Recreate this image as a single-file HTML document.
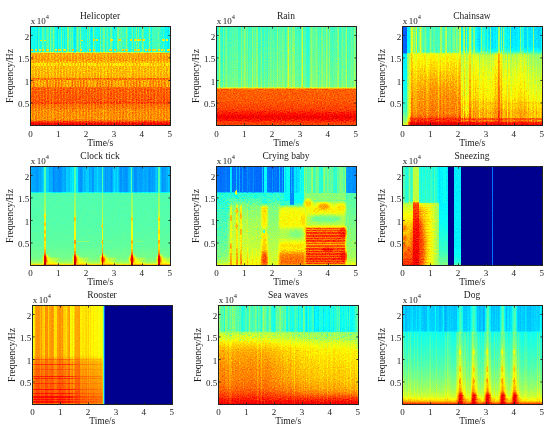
<!DOCTYPE html>
<html><head><meta charset="utf-8"><title>Spectrograms</title>
<style>html,body{margin:0;padding:0;background:#fff}svg{display:block}text{font-family:"Liberation Serif",serif;font-size:9.5px;fill:#1a1a1a}.t{font-size:9px}</style>
</head><body>
<svg width="550" height="431" viewBox="0 0 550 431">
<defs>
<filter id="j0" filterUnits="userSpaceOnUse" x="0" y="0" width="141" height="100" color-interpolation-filters="sRGB"><feTurbulence type="fractalNoise" baseFrequency=".75 .9" numOctaves="2" seed="2" result="n"/><feColorMatrix in="n" type="matrix" values="1 0 0 0 0 1 0 0 0 0 1 0 0 0 0 0 0 0 0 1" result="m"/><feComposite in="SourceGraphic" in2="m" operator="arithmetic" k1=".24" k2=".88" k3="0" k4="-0"/><feComponentTransfer><feFuncR type="table" tableValues="0 0 0 0 .5 1 1 1 .5"/><feFuncG type="table" tableValues="0 0 .5 1 1 1 .5 0 0"/><feFuncB type="table" tableValues=".56 1 1 1 .5 0 0 0 0"/></feComponentTransfer><feGaussianBlur stdDeviation=".4"/></filter>
<linearGradient id="g1" gradientUnits="userSpaceOnUse" x1="0" x2="0" y1="0" y2="100"><stop offset="0" stop-color="#6a6a6a"/><stop offset=".26" stop-color="#6b6b6b"/><stop offset=".27" stop-color="#b6b6b6"/><stop offset=".34" stop-color="#bbbbbb"/><stop offset=".36" stop-color="#b4b4b4"/><stop offset=".45" stop-color="#b2b2b2"/><stop offset=".52" stop-color="#b6b6b6"/><stop offset=".52" stop-color="#cccccc"/><stop offset=".53" stop-color="#c3c3c3"/><stop offset=".61" stop-color="#c4c4c4"/><stop offset=".62" stop-color="#c9c9c9"/><stop offset=".76" stop-color="#cccccc"/><stop offset=".77" stop-color="#d6d6d6"/><stop offset=".78" stop-color="#c7c7c7"/><stop offset=".82" stop-color="#c4c4c4"/><stop offset=".84" stop-color="#bfbfbf"/><stop offset=".94" stop-color="#bebebe"/><stop offset=".95" stop-color="#cccccc"/><stop offset=".97" stop-color="#dedede"/><stop offset="1" stop-color="#ededed"/></linearGradient>
<filter id="j1" filterUnits="userSpaceOnUse" x="0" y="0" width="141" height="100" color-interpolation-filters="sRGB"><feTurbulence type="fractalNoise" baseFrequency=".75 .9" numOctaves="2" seed="3" result="n"/><feColorMatrix in="n" type="matrix" values="1 0 0 0 0 1 0 0 0 0 1 0 0 0 0 0 0 0 0 1" result="m"/><feComposite in="SourceGraphic" in2="m" operator="arithmetic" k1=".2" k2=".9" k3="0" k4="0"/><feComponentTransfer><feFuncR type="table" tableValues="0 0 0 0 .5 1 1 1 .5"/><feFuncG type="table" tableValues="0 0 .5 1 1 1 .5 0 0"/><feFuncB type="table" tableValues=".56 1 1 1 .5 0 0 0 0"/></feComponentTransfer><feGaussianBlur stdDeviation=".4"/></filter>
<linearGradient id="g2" gradientUnits="userSpaceOnUse" x1="0" x2="0" y1="0" y2="100"><stop offset="0" stop-color="#707070"/><stop offset=".3" stop-color="#757575"/><stop offset=".55" stop-color="#7a7a7a"/><stop offset=".61" stop-color="#7e7e7e"/><stop offset=".63" stop-color="#c7c7c7"/><stop offset=".75" stop-color="#c9c9c9"/><stop offset=".84" stop-color="#d0d0d0"/><stop offset=".88" stop-color="#dbdbdb"/><stop offset=".91" stop-color="#e2e2e2"/><stop offset=".94" stop-color="#dbdbdb"/><stop offset=".96" stop-color="#d1d1d1"/><stop offset="1" stop-color="#cccccc"/></linearGradient>
<filter id="j2" filterUnits="userSpaceOnUse" x="0" y="0" width="141" height="100" color-interpolation-filters="sRGB"><feTurbulence type="fractalNoise" baseFrequency=".75 .9" numOctaves="2" seed="4" result="n"/><feColorMatrix in="n" type="matrix" values="1 0 0 0 0 1 0 0 0 0 1 0 0 0 0 0 0 0 0 1" result="m"/><feComposite in="SourceGraphic" in2="m" operator="arithmetic" k1=".22" k2=".89" k3="0" k4="0"/><feComponentTransfer><feFuncR type="table" tableValues="0 0 0 0 .5 1 1 1 .5"/><feFuncG type="table" tableValues="0 0 .5 1 1 1 .5 0 0"/><feFuncB type="table" tableValues=".56 1 1 1 .5 0 0 0 0"/></feComponentTransfer><feGaussianBlur stdDeviation=".4"/></filter>
<linearGradient id="g3" gradientUnits="userSpaceOnUse" x1="0" x2="0" y1="0" y2="100"><stop offset="0" stop-color="#757575"/><stop offset=".26" stop-color="#787878"/><stop offset=".28" stop-color="#9d9d9d"/><stop offset=".4" stop-color="#a6a6a6"/><stop offset=".5" stop-color="#adadad"/><stop offset=".7" stop-color="#b6b6b6"/><stop offset=".88" stop-color="#bdbdbd"/><stop offset=".94" stop-color="#d1d1d1"/><stop offset="1" stop-color="#ebebeb"/></linearGradient>
<linearGradient id="g4" gradientUnits="userSpaceOnUse" x1="0" x2="0" y1="0" y2="100"><stop offset="0" stop-color="#5b5b5b"/><stop offset=".21" stop-color="#5d5d5d"/><stop offset=".25" stop-color="#666666"/><stop offset=".27" stop-color="#7a7a7a"/><stop offset=".29" stop-color="#8f8f8f"/><stop offset=".4" stop-color="#959595"/><stop offset=".5" stop-color="#9c9c9c"/><stop offset=".6" stop-color="#a1a1a1"/><stop offset=".7" stop-color="#a4a4a4"/><stop offset=".8" stop-color="#acacac"/><stop offset=".87" stop-color="#b5b5b5"/><stop offset=".91" stop-color="#b2b2b2"/><stop offset=".94" stop-color="#bebebe"/><stop offset=".96" stop-color="#cccccc"/><stop offset="1" stop-color="#e6e6e6"/></linearGradient>
<linearGradient id="g5" gradientUnits="userSpaceOnUse" x1="100" x2="141" y1="0" y2="0"><stop offset="0" stop-color="#000" stop-opacity="0"/><stop offset="1" stop-color="#000" stop-opacity=".04"/></linearGradient>
<linearGradient id="g6" gradientUnits="userSpaceOnUse" x1="100" x2="141" y1="0" y2="0"><stop offset="0" stop-color="#000" stop-opacity="0"/><stop offset="1" stop-color="#000" stop-opacity=".02"/></linearGradient>
<linearGradient id="g7" gradientUnits="userSpaceOnUse" x1="0" x2="0" y1="0" y2="100"><stop offset=".27" stop-color="#8f8f8f" stop-opacity=".5"/><stop offset=".45" stop-color="#949494" stop-opacity=".85"/><stop offset=".85" stop-color="#9e9e9e" stop-opacity=".85"/><stop offset=".95" stop-color="#b2b2b2" stop-opacity="0"/></linearGradient>
<filter id="b8" x="-50%" y="-50%" width="200%" height="200%"><feGaussianBlur stdDeviation=".7 0"/></filter>
<filter id="b9" x="-50%" y="-50%" width="200%" height="200%"><feGaussianBlur stdDeviation="6"/></filter>
<linearGradient id="g10" gradientUnits="userSpaceOnUse" x1="0" x2="0" y1="0" y2="100"><stop offset="0" stop-color="#373737"/><stop offset=".27" stop-color="#393939"/><stop offset=".28" stop-color="#5c5c5c"/><stop offset=".6" stop-color="#616161"/><stop offset=".85" stop-color="#707070"/><stop offset=".95" stop-color="#858585"/><stop offset="1" stop-color="#9e9e9e"/></linearGradient>
<linearGradient id="g11" gradientUnits="userSpaceOnUse" x1="5" x2="9.5" y1="0" y2="0"><stop offset="0" stop-color="#808080" stop-opacity="1"/><stop offset="1" stop-color="#808080" stop-opacity=".2"/></linearGradient>
<linearGradient id="g12" gradientUnits="userSpaceOnUse" x1="0" x2="0" y1="0" y2="100"><stop offset=".88" stop-color="#fff" stop-opacity="0"/><stop offset="1" stop-color="#fff" stop-opacity=".3"/></linearGradient>
<linearGradient id="g13" gradientUnits="userSpaceOnUse" x1="0" x2="0" y1="0" y2="100"><stop offset="0" stop-color="#b2b2b2"/><stop offset=".26" stop-color="#b2b2b2"/><stop offset=".4" stop-color="#bababa"/><stop offset=".8" stop-color="#c7c7c7"/><stop offset="1" stop-color="#ebebeb"/></linearGradient>
<filter id="b14" x="-50%" y="-50%" width="200%" height="200%"><feGaussianBlur stdDeviation=".4 0"/></filter>
<linearGradient id="g15" gradientUnits="userSpaceOnUse" x1="0" x2="0" y1="0" y2="100"><stop offset="0" stop-color="#b2b2b2"/><stop offset=".26" stop-color="#b2b2b2"/><stop offset=".4" stop-color="#bababa"/><stop offset=".8" stop-color="#c7c7c7"/><stop offset="1" stop-color="#ebebeb"/></linearGradient>
<linearGradient id="g16" gradientUnits="userSpaceOnUse" x1="0" x2="0" y1="0" y2="100"><stop offset="0" stop-color="#b2b2b2"/><stop offset=".26" stop-color="#b2b2b2"/><stop offset=".4" stop-color="#bababa"/><stop offset=".8" stop-color="#c7c7c7"/><stop offset="1" stop-color="#ebebeb"/></linearGradient>
<linearGradient id="g17" gradientUnits="userSpaceOnUse" x1="0" x2="0" y1="0" y2="100"><stop offset="0" stop-color="#b2b2b2"/><stop offset=".26" stop-color="#b2b2b2"/><stop offset=".4" stop-color="#bababa"/><stop offset=".8" stop-color="#c7c7c7"/><stop offset="1" stop-color="#ebebeb"/></linearGradient>
<linearGradient id="g18" gradientUnits="userSpaceOnUse" x1="0" x2="0" y1="0" y2="100"><stop offset="0" stop-color="#b2b2b2"/><stop offset=".26" stop-color="#b2b2b2"/><stop offset=".4" stop-color="#bababa"/><stop offset=".8" stop-color="#c7c7c7"/><stop offset="1" stop-color="#ebebeb"/></linearGradient>
<linearGradient id="g19" gradientUnits="userSpaceOnUse" x1="0" x2="0" y1="0" y2="100"><stop offset="0" stop-color="#b2b2b2"/><stop offset=".26" stop-color="#b2b2b2"/><stop offset=".4" stop-color="#bababa"/><stop offset=".8" stop-color="#c7c7c7"/><stop offset="1" stop-color="#ebebeb"/></linearGradient>
<linearGradient id="g20" gradientUnits="userSpaceOnUse" x1="0" x2="0" y1="0" y2="100"><stop offset="0" stop-color="#b2b2b2"/><stop offset=".26" stop-color="#b2b2b2"/><stop offset=".4" stop-color="#bababa"/><stop offset=".8" stop-color="#c7c7c7"/><stop offset="1" stop-color="#ebebeb"/></linearGradient>
<linearGradient id="g21" gradientUnits="userSpaceOnUse" x1="92" x2="101" y1="0" y2="0"><stop offset="0" stop-color="#fff" stop-opacity="0"/><stop offset=".5" stop-color="#fff" stop-opacity=".22"/><stop offset="1" stop-color="#fff" stop-opacity="0"/></linearGradient>
<filter id="b22" x="-50%" y="-50%" width="200%" height="200%"><feGaussianBlur stdDeviation="0 .8"/></filter>
<filter id="j3" filterUnits="userSpaceOnUse" x="0" y="0" width="141" height="100" color-interpolation-filters="sRGB"><feTurbulence type="fractalNoise" baseFrequency=".75 .9" numOctaves="2" seed="5" result="n"/><feColorMatrix in="n" type="matrix" values="1 0 0 0 0 1 0 0 0 0 1 0 0 0 0 0 0 0 0 1" result="m"/><feComposite in="SourceGraphic" in2="m" operator="arithmetic" k1=".12" k2=".94" k3="0" k4="0"/><feComponentTransfer><feFuncR type="table" tableValues="0 0 0 0 .5 1 1 1 .5"/><feFuncG type="table" tableValues="0 0 .5 1 1 1 .5 0 0"/><feFuncB type="table" tableValues=".56 1 1 1 .5 0 0 0 0"/></feComponentTransfer><feGaussianBlur stdDeviation=".4"/></filter>
<linearGradient id="g23" gradientUnits="userSpaceOnUse" x1="0" x2="0" y1="0" y2="100"><stop offset="0" stop-color="#494949"/><stop offset=".26" stop-color="#4a4a4a"/><stop offset=".27" stop-color="#747474"/><stop offset=".6" stop-color="#757575"/><stop offset=".8" stop-color="#787878"/><stop offset=".92" stop-color="#7d7d7d"/><stop offset=".96" stop-color="#858585"/><stop offset=".98" stop-color="#949494"/><stop offset=".99" stop-color="#bdbdbd"/><stop offset="1" stop-color="#ebebeb"/></linearGradient>
<linearGradient id="g24" gradientUnits="userSpaceOnUse" x1="0" x2="0" y1="0" y2="100"><stop offset=".27" stop-color="#fff" stop-opacity=".1"/><stop offset=".45" stop-color="#fff" stop-opacity=".16"/><stop offset=".55" stop-color="#fff" stop-opacity=".24"/><stop offset=".7" stop-color="#fff" stop-opacity=".3"/><stop offset=".82" stop-color="#fff" stop-opacity=".34"/><stop offset=".88" stop-color="#fff" stop-opacity=".5"/><stop offset=".92" stop-color="#fff" stop-opacity=".8"/><stop offset="1" stop-color="#fff" stop-opacity=".85"/></linearGradient>
<filter id="b25" x="-50%" y="-50%" width="200%" height="200%"><feGaussianBlur stdDeviation=".45 0"/></filter>
<filter id="b26" x="-50%" y="-50%" width="200%" height="200%"><feGaussianBlur stdDeviation=".9"/></filter>
<filter id="b27" x="-50%" y="-50%" width="200%" height="200%"><feGaussianBlur stdDeviation="1.4"/></filter>
<filter id="b28" x="-50%" y="-50%" width="200%" height="200%"><feGaussianBlur stdDeviation=".8"/></filter>
<linearGradient id="g29" gradientUnits="userSpaceOnUse" x1="0" x2="0" y1="0" y2="100"><stop offset=".27" stop-color="#fff" stop-opacity=".1"/><stop offset=".45" stop-color="#fff" stop-opacity=".16"/><stop offset=".55" stop-color="#fff" stop-opacity=".24"/><stop offset=".7" stop-color="#fff" stop-opacity=".3"/><stop offset=".82" stop-color="#fff" stop-opacity=".34"/><stop offset=".88" stop-color="#fff" stop-opacity=".5"/><stop offset=".92" stop-color="#fff" stop-opacity=".8"/><stop offset="1" stop-color="#fff" stop-opacity=".85"/></linearGradient>
<linearGradient id="g30" gradientUnits="userSpaceOnUse" x1="0" x2="0" y1="0" y2="100"><stop offset=".27" stop-color="#fff" stop-opacity=".1"/><stop offset=".45" stop-color="#fff" stop-opacity=".16"/><stop offset=".55" stop-color="#fff" stop-opacity=".24"/><stop offset=".7" stop-color="#fff" stop-opacity=".3"/><stop offset=".82" stop-color="#fff" stop-opacity=".34"/><stop offset=".88" stop-color="#fff" stop-opacity=".5"/><stop offset=".92" stop-color="#fff" stop-opacity=".8"/><stop offset="1" stop-color="#fff" stop-opacity=".85"/></linearGradient>
<linearGradient id="g31" gradientUnits="userSpaceOnUse" x1="0" x2="0" y1="0" y2="100"><stop offset=".27" stop-color="#fff" stop-opacity=".1"/><stop offset=".45" stop-color="#fff" stop-opacity=".16"/><stop offset=".55" stop-color="#fff" stop-opacity=".24"/><stop offset=".7" stop-color="#fff" stop-opacity=".3"/><stop offset=".82" stop-color="#fff" stop-opacity=".34"/><stop offset=".88" stop-color="#fff" stop-opacity=".5"/><stop offset=".92" stop-color="#fff" stop-opacity=".8"/><stop offset="1" stop-color="#fff" stop-opacity=".85"/></linearGradient>
<linearGradient id="g32" gradientUnits="userSpaceOnUse" x1="0" x2="0" y1="0" y2="100"><stop offset=".27" stop-color="#fff" stop-opacity=".1"/><stop offset=".45" stop-color="#fff" stop-opacity=".16"/><stop offset=".55" stop-color="#fff" stop-opacity=".24"/><stop offset=".7" stop-color="#fff" stop-opacity=".3"/><stop offset=".82" stop-color="#fff" stop-opacity=".34"/><stop offset=".88" stop-color="#fff" stop-opacity=".5"/><stop offset=".92" stop-color="#fff" stop-opacity=".8"/><stop offset="1" stop-color="#fff" stop-opacity=".85"/></linearGradient>
<filter id="b33" x="-50%" y="-50%" width="200%" height="200%"><feGaussianBlur stdDeviation=".6"/></filter>
<filter id="j4" filterUnits="userSpaceOnUse" x="0" y="0" width="141" height="100" color-interpolation-filters="sRGB"><feTurbulence type="fractalNoise" baseFrequency=".75 .9" numOctaves="2" seed="6" result="n"/><feColorMatrix in="n" type="matrix" values="1 0 0 0 0 1 0 0 0 0 1 0 0 0 0 0 0 0 0 1" result="m"/><feComposite in="SourceGraphic" in2="m" operator="arithmetic" k1=".22" k2=".89" k3="0" k4="0"/><feComponentTransfer><feFuncR type="table" tableValues="0 0 0 0 .5 1 1 1 .5"/><feFuncG type="table" tableValues="0 0 .5 1 1 1 .5 0 0"/><feFuncB type="table" tableValues=".56 1 1 1 .5 0 0 0 0"/></feComponentTransfer><feGaussianBlur stdDeviation=".4"/></filter>
<linearGradient id="g34" gradientUnits="userSpaceOnUse" x1="0" x2="0" y1="0" y2="100"><stop offset="0" stop-color="#3c3c3c"/><stop offset=".26" stop-color="#3d3d3d"/><stop offset=".27" stop-color="#6b6b6b"/><stop offset=".5" stop-color="#707070"/><stop offset=".75" stop-color="#787878"/><stop offset=".9" stop-color="#808080"/><stop offset=".96" stop-color="#8c8c8c"/><stop offset="1" stop-color="#9e9e9e"/></linearGradient>
<linearGradient id="g35" gradientUnits="userSpaceOnUse" x1="0" x2="0" y1="0" y2="100"><stop offset=".27" stop-color="#6e6e6e" stop-opacity="0"/><stop offset=".38" stop-color="#858585" stop-opacity=".8"/><stop offset=".6" stop-color="#8c8c8c"/><stop offset=".85" stop-color="#949494"/><stop offset="1" stop-color="#a3a3a3"/></linearGradient>
<linearGradient id="g36" gradientUnits="userSpaceOnUse" x1="0" x2="0" y1="0" y2="100"><stop offset=".37" stop-color="#9e9e9e" stop-opacity="0"/><stop offset=".42" stop-color="#9e9e9e" stop-opacity="1"/><stop offset=".8" stop-color="#9e9e9e" stop-opacity="1"/><stop offset=".88" stop-color="#bdbdbd" stop-opacity="1"/><stop offset=".97" stop-color="#c4c4c4" stop-opacity="1"/><stop offset="1" stop-color="#b2b2b2" stop-opacity="1"/></linearGradient>
<filter id="b37" x="-50%" y="-50%" width="200%" height="200%"><feGaussianBlur stdDeviation=".7"/></filter>
<linearGradient id="g38" gradientUnits="userSpaceOnUse" x1="0" x2="0" y1="0" y2="100"><stop offset=".37" stop-color="#adadad" stop-opacity="0"/><stop offset=".42" stop-color="#adadad" stop-opacity="1"/><stop offset=".8" stop-color="#adadad" stop-opacity="1"/><stop offset=".88" stop-color="#cccccc" stop-opacity="1"/><stop offset=".97" stop-color="#d4d4d4" stop-opacity="1"/><stop offset="1" stop-color="#b2b2b2" stop-opacity="1"/></linearGradient>
<linearGradient id="g39" gradientUnits="userSpaceOnUse" x1="0" x2="0" y1="0" y2="100"><stop offset=".37" stop-color="#adadad" stop-opacity="0"/><stop offset=".42" stop-color="#adadad" stop-opacity="1"/><stop offset=".8" stop-color="#adadad" stop-opacity="1"/><stop offset=".88" stop-color="#cccccc" stop-opacity="1"/><stop offset=".97" stop-color="#d4d4d4" stop-opacity="1"/><stop offset="1" stop-color="#b2b2b2" stop-opacity="1"/></linearGradient>
<linearGradient id="g40" gradientUnits="userSpaceOnUse" x1="0" x2="0" y1="0" y2="100"><stop offset=".37" stop-color="#999999" stop-opacity="0"/><stop offset=".42" stop-color="#999999" stop-opacity="1"/><stop offset=".8" stop-color="#999999" stop-opacity="1"/><stop offset=".88" stop-color="#b8b8b8" stop-opacity="1"/><stop offset=".97" stop-color="#bfbfbf" stop-opacity="1"/><stop offset="1" stop-color="#b2b2b2" stop-opacity="1"/></linearGradient>
<linearGradient id="g41" gradientUnits="userSpaceOnUse" x1="0" x2="0" y1="0" y2="100"><stop offset=".37" stop-color="#949494" stop-opacity="0"/><stop offset=".42" stop-color="#949494" stop-opacity="1"/><stop offset=".8" stop-color="#949494" stop-opacity="1"/><stop offset=".88" stop-color="#b2b2b2" stop-opacity="1"/><stop offset=".97" stop-color="#bababa" stop-opacity="1"/><stop offset="1" stop-color="#b2b2b2" stop-opacity="1"/></linearGradient>
<linearGradient id="g42" gradientUnits="userSpaceOnUse" x1="0" x2="0" y1="0" y2="100"><stop offset=".37" stop-color="#949494" stop-opacity="0"/><stop offset=".42" stop-color="#949494" stop-opacity="1"/><stop offset=".8" stop-color="#949494" stop-opacity="1"/><stop offset=".88" stop-color="#b2b2b2" stop-opacity="1"/><stop offset=".97" stop-color="#bababa" stop-opacity="1"/><stop offset="1" stop-color="#b2b2b2" stop-opacity="1"/></linearGradient>
<filter id="b43" x="-50%" y="-50%" width="200%" height="200%"><feGaussianBlur stdDeviation="2.5"/></filter>
<linearGradient id="g44" gradientUnits="userSpaceOnUse" x1="0" x2="0" y1="0" y2="100"><stop offset=".39" stop-color="#8f8f8f"/><stop offset=".42" stop-color="#a8a8a8"/><stop offset=".6" stop-color="#a3a3a3"/><stop offset=".64" stop-color="#8c8c8c"/><stop offset=".67" stop-color="#a3a3a3"/><stop offset=".84" stop-color="#adadad"/><stop offset=".88" stop-color="#c7c7c7"/><stop offset=".97" stop-color="#d1d1d1"/><stop offset="1" stop-color="#b2b2b2"/></linearGradient>
<filter id="b45" x="-50%" y="-50%" width="200%" height="200%"><feGaussianBlur stdDeviation=".5"/></filter>
<linearGradient id="g46" gradientUnits="userSpaceOnUse" x1="0" x2="0" y1="0" y2="100"><stop offset=".27" stop-color="#6e6e6e" stop-opacity="0"/><stop offset=".4" stop-color="#808080" stop-opacity="1"/><stop offset=".6" stop-color="#878787" stop-opacity="1"/><stop offset="1" stop-color="#999999" stop-opacity="1"/></linearGradient>
<linearGradient id="g47" gradientUnits="userSpaceOnUse" x1="0" x2="0" y1="0" y2="100"><stop offset=".4" stop-color="#8f8f8f"/><stop offset=".44" stop-color="#9e9e9e"/><stop offset=".6" stop-color="#a1a1a1"/><stop offset=".63" stop-color="#8f8f8f"/><stop offset=".7" stop-color="#8a8a8a"/><stop offset=".75" stop-color="#999999"/><stop offset=".78" stop-color="#9e9e9e"/><stop offset=".79" stop-color="#b8b8b8"/><stop offset=".8" stop-color="#a1a1a1"/><stop offset=".85" stop-color="#a8a8a8"/><stop offset=".88" stop-color="#bdbdbd"/><stop offset=".97" stop-color="#c7c7c7"/><stop offset="1" stop-color="#b2b2b2"/></linearGradient>
<filter id="b48" x="-50%" y="-50%" width="200%" height="200%"><feGaussianBlur stdDeviation="2"/></filter>
<linearGradient id="g49" gradientUnits="userSpaceOnUse" x1="0" x2="0" y1="0" y2="100"><stop offset=".32" stop-color="#808080" stop-opacity="0"/><stop offset=".37" stop-color="#999999" stop-opacity=".9"/><stop offset=".46" stop-color="#9e9e9e" stop-opacity="1"/><stop offset=".5" stop-color="#8f8f8f" stop-opacity="1"/><stop offset=".58" stop-color="#8c8c8c" stop-opacity="1"/><stop offset=".62" stop-color="#9e9e9e" stop-opacity="1"/><stop offset=".65" stop-color="#b2b2b2" stop-opacity="1"/></linearGradient>
<filter id="b50" x="-50%" y="-50%" width="200%" height="200%"><feGaussianBlur stdDeviation="1.2"/></filter>
<filter id="b51" x="-50%" y="-50%" width="200%" height="200%"><feGaussianBlur stdDeviation="1.3"/></filter>
<filter id="b52" x="-50%" y="-50%" width="200%" height="200%"><feGaussianBlur stdDeviation="1.5"/></filter>
<filter id="b53" x="-50%" y="-50%" width="200%" height="200%"><feGaussianBlur stdDeviation="1.8"/></filter>
<filter id="b54" x="-50%" y="-50%" width="200%" height="200%"><feGaussianBlur stdDeviation="1"/></filter>
<linearGradient id="g55" gradientUnits="userSpaceOnUse" x1="0" x2="0" y1="0" y2="100"><stop offset=".61" stop-color="#adadad"/><stop offset=".64" stop-color="#bfbfbf"/><stop offset=".74" stop-color="#c4c4c4"/><stop offset=".77" stop-color="#b5b5b5"/><stop offset=".8" stop-color="#b0b0b0"/><stop offset=".82" stop-color="#bfbfbf"/><stop offset=".95" stop-color="#c9c9c9"/><stop offset=".98" stop-color="#bdbdbd"/><stop offset="1" stop-color="#adadad"/></linearGradient>
<linearGradient id="g56" gradientUnits="userSpaceOnUse" x1="0" x2="0" y1="0" y2="100"><stop offset=".27" stop-color="#757575"/><stop offset=".6" stop-color="#808080"/><stop offset=".92" stop-color="#8a8a8a"/><stop offset="1" stop-color="#9e9e9e"/></linearGradient>
<filter id="j5" filterUnits="userSpaceOnUse" x="0" y="0" width="141" height="100" color-interpolation-filters="sRGB"><feTurbulence type="fractalNoise" baseFrequency=".75 .9" numOctaves="2" seed="7" result="n"/><feColorMatrix in="n" type="matrix" values="1 0 0 0 0 1 0 0 0 0 1 0 0 0 0 0 0 0 0 1" result="m"/><feComposite in="SourceGraphic" in2="m" operator="arithmetic" k1=".2" k2=".9" k3="0" k4="0"/><feComponentTransfer><feFuncR type="table" tableValues="0 0 0 0 .5 1 1 1 .5"/><feFuncG type="table" tableValues="0 0 .5 1 1 1 .5 0 0"/><feFuncB type="table" tableValues=".56 1 1 1 .5 0 0 0 0"/></feComponentTransfer><feGaussianBlur stdDeviation=".4"/></filter>
<linearGradient id="g57" gradientUnits="userSpaceOnUse" x1="0" x2="0" y1="0" y2="100"><stop offset="0" stop-color="#5b5b5b"/><stop offset=".8" stop-color="#5d5d5d"/><stop offset=".95" stop-color="#666666"/><stop offset="1" stop-color="#757575"/></linearGradient>
<linearGradient id="g58" gradientUnits="userSpaceOnUse" x1="0" x2="0" y1="0" y2="100"><stop offset="0" stop-color="#707070"/><stop offset=".35" stop-color="#737373"/><stop offset=".38" stop-color="#8f8f8f"/><stop offset=".48" stop-color="#9e9e9e"/><stop offset=".6" stop-color="#ababab"/><stop offset=".8" stop-color="#b5b5b5"/><stop offset=".92" stop-color="#c4c4c4"/><stop offset="1" stop-color="#d9d9d9"/></linearGradient>
<linearGradient id="g59" gradientUnits="userSpaceOnUse" x1="0" x2="0" y1="0" y2="100"><stop offset="0" stop-color="#8f8f8f"/><stop offset=".35" stop-color="#919191"/><stop offset=".37" stop-color="#cccccc"/><stop offset=".6" stop-color="#d6d6d6"/><stop offset="1" stop-color="#e3e3e3"/></linearGradient>
<linearGradient id="g60" gradientUnits="userSpaceOnUse" x1="0" x2="0" y1="0" y2="100"><stop offset="0" stop-color="#666666"/><stop offset=".36" stop-color="#696969"/><stop offset=".38" stop-color="#808080"/></linearGradient>
<linearGradient id="g61" gradientUnits="userSpaceOnUse" x1="0" x2="0" y1="0" y2="100"><stop offset="0" stop-color="#5c5c5c"/><stop offset=".36" stop-color="#5d5d5d"/><stop offset=".6" stop-color="#636363"/><stop offset=".85" stop-color="#6e6e6e"/><stop offset="1" stop-color="#808080"/></linearGradient>
<linearGradient id="g62" gradientUnits="userSpaceOnUse" x1="16.5" x2="36.5" y1="0" y2="0"><stop offset="0" stop-color="#bdbdbd"/><stop offset=".17" stop-color="#b0b0b0"/><stop offset=".38" stop-color="#a6a6a6"/><stop offset=".62" stop-color="#9c9c9c"/><stop offset=".82" stop-color="#909090"/><stop offset="1" stop-color="#858585"/></linearGradient>
<linearGradient id="g63" gradientUnits="userSpaceOnUse" x1="0" x2="0" y1="0" y2="100"><stop offset=".37" stop-color="#8c8c8c" stop-opacity=".75"/><stop offset=".45" stop-color="#8c8c8c" stop-opacity="0"/></linearGradient>
<filter id="b64" x="-50%" y="-50%" width="200%" height="200%"><feGaussianBlur stdDeviation="2.2"/></filter>
<filter id="j6" filterUnits="userSpaceOnUse" x="0" y="0" width="141" height="100" color-interpolation-filters="sRGB"><feTurbulence type="fractalNoise" baseFrequency=".75 .9" numOctaves="2" seed="8" result="n"/><feColorMatrix in="n" type="matrix" values="1 0 0 0 0 1 0 0 0 0 1 0 0 0 0 0 0 0 0 1" result="m"/><feComposite in="SourceGraphic" in2="m" operator="arithmetic" k1=".08" k2=".96" k3="0" k4="0"/><feComponentTransfer><feFuncR type="table" tableValues="0 0 0 0 .5 1 1 1 .5"/><feFuncG type="table" tableValues="0 0 .5 1 1 1 .5 0 0"/><feFuncB type="table" tableValues=".56 1 1 1 .5 0 0 0 0"/></feComponentTransfer><feGaussianBlur stdDeviation=".4"/></filter>
<linearGradient id="g65" gradientUnits="userSpaceOnUse" x1="0" x2="0" y1="0" y2="100"><stop offset="0" stop-color="#b2b2b2"/><stop offset=".5" stop-color="#b2b2b2"/><stop offset=".56" stop-color="#c2c2c2"/><stop offset=".7" stop-color="#c7c7c7"/><stop offset=".85" stop-color="#cccccc"/><stop offset=".96" stop-color="#d6d6d6"/><stop offset=".98" stop-color="#cccccc"/><stop offset="1" stop-color="#b2b2b2"/></linearGradient>
<linearGradient id="g66" gradientUnits="userSpaceOnUse" x1="0" x2="0" y1="0" y2="100"><stop offset="0" stop-color="#a3a3a3" stop-opacity="1"/><stop offset=".5" stop-color="#a3a3a3" stop-opacity="1"/><stop offset=".57" stop-color="#adadad" stop-opacity=".45"/><stop offset="1" stop-color="#b8b8b8" stop-opacity=".3"/></linearGradient>
<linearGradient id="g67" gradientUnits="userSpaceOnUse" x1="0" x2="0" y1="0" y2="100"><stop offset="0" stop-color="#b9b9b9" stop-opacity="1"/><stop offset=".5" stop-color="#b9b9b9" stop-opacity="1"/><stop offset=".57" stop-color="#c3c3c3" stop-opacity=".45"/><stop offset="1" stop-color="#cdcdcd" stop-opacity=".3"/></linearGradient>
<linearGradient id="g68" gradientUnits="userSpaceOnUse" x1="0" x2="0" y1="0" y2="100"><stop offset="0" stop-color="#adadad" stop-opacity="1"/><stop offset=".5" stop-color="#adadad" stop-opacity="1"/><stop offset=".57" stop-color="#b8b8b8" stop-opacity=".45"/><stop offset="1" stop-color="#c2c2c2" stop-opacity=".3"/></linearGradient>
<linearGradient id="g69" gradientUnits="userSpaceOnUse" x1="0" x2="0" y1="0" y2="100"><stop offset="0" stop-color="#bababa" stop-opacity="1"/><stop offset=".5" stop-color="#bababa" stop-opacity="1"/><stop offset=".57" stop-color="#c4c4c4" stop-opacity=".45"/><stop offset="1" stop-color="#cfcfcf" stop-opacity=".3"/></linearGradient>
<linearGradient id="g70" gradientUnits="userSpaceOnUse" x1="0" x2="0" y1="0" y2="100"><stop offset="0" stop-color="#ababab" stop-opacity="1"/><stop offset=".5" stop-color="#ababab" stop-opacity="1"/><stop offset=".57" stop-color="#b5b5b5" stop-opacity=".45"/><stop offset="1" stop-color="#bfbfbf" stop-opacity=".3"/></linearGradient>
<linearGradient id="g71" gradientUnits="userSpaceOnUse" x1="0" x2="0" y1="0" y2="100"><stop offset="0" stop-color="#bababa" stop-opacity="1"/><stop offset=".5" stop-color="#bababa" stop-opacity="1"/><stop offset=".57" stop-color="#c4c4c4" stop-opacity=".45"/><stop offset="1" stop-color="#cfcfcf" stop-opacity=".3"/></linearGradient>
<linearGradient id="g72" gradientUnits="userSpaceOnUse" x1="0" x2="0" y1="0" y2="100"><stop offset="0" stop-color="#ababab" stop-opacity="1"/><stop offset=".5" stop-color="#ababab" stop-opacity="1"/><stop offset=".57" stop-color="#b5b5b5" stop-opacity=".45"/><stop offset="1" stop-color="#bfbfbf" stop-opacity=".3"/></linearGradient>
<linearGradient id="g73" gradientUnits="userSpaceOnUse" x1="0" x2="0" y1="0" y2="100"><stop offset="0" stop-color="#bababa" stop-opacity="1"/><stop offset=".5" stop-color="#bababa" stop-opacity="1"/><stop offset=".57" stop-color="#c4c4c4" stop-opacity=".45"/><stop offset="1" stop-color="#cfcfcf" stop-opacity=".3"/></linearGradient>
<linearGradient id="g74" gradientUnits="userSpaceOnUse" x1="0" x2="0" y1="0" y2="100"><stop offset="0" stop-color="#ababab" stop-opacity="1"/><stop offset=".5" stop-color="#ababab" stop-opacity="1"/><stop offset=".57" stop-color="#b5b5b5" stop-opacity=".45"/><stop offset="1" stop-color="#bfbfbf" stop-opacity=".3"/></linearGradient>
<linearGradient id="g75" gradientUnits="userSpaceOnUse" x1="0" x2="0" y1="0" y2="100"><stop offset="0" stop-color="#b8b8b8" stop-opacity="1"/><stop offset=".5" stop-color="#b8b8b8" stop-opacity="1"/><stop offset=".57" stop-color="#c2c2c2" stop-opacity=".45"/><stop offset="1" stop-color="#cccccc" stop-opacity=".3"/></linearGradient>
<linearGradient id="g76" gradientUnits="userSpaceOnUse" x1="0" x2="0" y1="0" y2="100"><stop offset="0" stop-color="#a6a6a6" stop-opacity="1"/><stop offset=".5" stop-color="#a6a6a6" stop-opacity="1"/><stop offset=".57" stop-color="#b0b0b0" stop-opacity=".45"/><stop offset="1" stop-color="#bababa" stop-opacity=".3"/></linearGradient>
<linearGradient id="g77" gradientUnits="userSpaceOnUse" x1="0" x2="0" y1="0" y2="100"><stop offset="0" stop-color="#b5b5b5" stop-opacity="1"/><stop offset=".5" stop-color="#b5b5b5" stop-opacity="1"/><stop offset=".57" stop-color="#bfbfbf" stop-opacity=".7"/><stop offset="1" stop-color="#c9c9c9" stop-opacity=".55"/></linearGradient>
<linearGradient id="g78" gradientUnits="userSpaceOnUse" x1="0" x2="0" y1="0" y2="100"><stop offset="0" stop-color="#a3a3a3" stop-opacity="1"/><stop offset=".5" stop-color="#a3a3a3" stop-opacity="1"/><stop offset=".57" stop-color="#adadad" stop-opacity=".7"/><stop offset="1" stop-color="#b8b8b8" stop-opacity=".55"/></linearGradient>
<linearGradient id="g79" gradientUnits="userSpaceOnUse" x1="0" x2="0" y1="0" y2="100"><stop offset="0" stop-color="#ababab" stop-opacity="1"/><stop offset=".5" stop-color="#ababab" stop-opacity="1"/><stop offset=".57" stop-color="#b5b5b5" stop-opacity=".7"/><stop offset="1" stop-color="#bfbfbf" stop-opacity=".55"/></linearGradient>
<linearGradient id="g80" gradientUnits="userSpaceOnUse" x1="0" x2="0" y1="0" y2="100"><stop offset="0" stop-color="#a1a1a1" stop-opacity="1"/><stop offset=".5" stop-color="#a1a1a1" stop-opacity="1"/><stop offset=".57" stop-color="#ababab" stop-opacity=".7"/><stop offset="1" stop-color="#b6b6b6" stop-opacity=".55"/></linearGradient>
<linearGradient id="g81" gradientUnits="userSpaceOnUse" x1="0" x2="0" y1="0" y2="100"><stop offset="0" stop-color="#9d9d9d" stop-opacity="1"/><stop offset=".5" stop-color="#9d9d9d" stop-opacity="1"/><stop offset=".57" stop-color="#a7a7a7" stop-opacity=".7"/><stop offset="1" stop-color="#b1b1b1" stop-opacity=".55"/></linearGradient>
<linearGradient id="g82" gradientUnits="userSpaceOnUse" x1="0" x2="71" y1="0" y2="0"><stop offset="0" stop-color="#ededed" stop-opacity="1"/><stop offset=".56" stop-color="#ededed" stop-opacity="1"/><stop offset=".65" stop-color="#dbdbdb" stop-opacity=".7"/><stop offset="1" stop-color="#d6d6d6" stop-opacity=".5"/></linearGradient>
<linearGradient id="g83" gradientUnits="userSpaceOnUse" x1="0" x2="71" y1="0" y2="0"><stop offset="0" stop-color="#ededed" stop-opacity="1"/><stop offset=".56" stop-color="#ededed" stop-opacity="1"/><stop offset=".65" stop-color="#dbdbdb" stop-opacity=".7"/><stop offset="1" stop-color="#d6d6d6" stop-opacity=".5"/></linearGradient>
<linearGradient id="g84" gradientUnits="userSpaceOnUse" x1="0" x2="71" y1="0" y2="0"><stop offset="0" stop-color="#ededed" stop-opacity="1"/><stop offset=".56" stop-color="#ededed" stop-opacity="1"/><stop offset=".65" stop-color="#dbdbdb" stop-opacity=".7"/><stop offset="1" stop-color="#d6d6d6" stop-opacity=".5"/></linearGradient>
<linearGradient id="g85" gradientUnits="userSpaceOnUse" x1="0" x2="71" y1="0" y2="0"><stop offset="0" stop-color="#ededed" stop-opacity="1"/><stop offset=".56" stop-color="#ededed" stop-opacity="1"/><stop offset=".65" stop-color="#dbdbdb" stop-opacity=".7"/><stop offset="1" stop-color="#d6d6d6" stop-opacity=".5"/></linearGradient>
<linearGradient id="g86" gradientUnits="userSpaceOnUse" x1="0" x2="71" y1="0" y2="0"><stop offset="0" stop-color="#ededed" stop-opacity="1"/><stop offset=".56" stop-color="#ededed" stop-opacity="1"/><stop offset=".65" stop-color="#dbdbdb" stop-opacity=".7"/><stop offset="1" stop-color="#d6d6d6" stop-opacity=".5"/></linearGradient>
<linearGradient id="g87" gradientUnits="userSpaceOnUse" x1="0" x2="71" y1="0" y2="0"><stop offset="0" stop-color="#ededed" stop-opacity="1"/><stop offset=".56" stop-color="#ededed" stop-opacity="1"/><stop offset=".65" stop-color="#dbdbdb" stop-opacity=".7"/><stop offset="1" stop-color="#d6d6d6" stop-opacity=".5"/></linearGradient>
<linearGradient id="g88" gradientUnits="userSpaceOnUse" x1="0" x2="71" y1="0" y2="0"><stop offset="0" stop-color="#ededed" stop-opacity="1"/><stop offset=".56" stop-color="#ededed" stop-opacity="1"/><stop offset=".65" stop-color="#dbdbdb" stop-opacity=".7"/><stop offset="1" stop-color="#d6d6d6" stop-opacity=".5"/></linearGradient>
<linearGradient id="g89" gradientUnits="userSpaceOnUse" x1="0" x2="71" y1="0" y2="0"><stop offset="0" stop-color="#ededed" stop-opacity="1"/><stop offset=".56" stop-color="#ededed" stop-opacity="1"/><stop offset=".65" stop-color="#dbdbdb" stop-opacity=".7"/><stop offset="1" stop-color="#d6d6d6" stop-opacity=".5"/></linearGradient>
<linearGradient id="g90" gradientUnits="userSpaceOnUse" x1="0" x2="71" y1="0" y2="0"><stop offset="0" stop-color="#ededed" stop-opacity="1"/><stop offset=".56" stop-color="#ededed" stop-opacity="1"/><stop offset=".65" stop-color="#dbdbdb" stop-opacity=".7"/><stop offset="1" stop-color="#d6d6d6" stop-opacity=".5"/></linearGradient>
<linearGradient id="g91" gradientUnits="userSpaceOnUse" x1="0" x2="71" y1="0" y2="0"><stop offset="0" stop-color="#ededed" stop-opacity="1"/><stop offset=".56" stop-color="#ededed" stop-opacity="1"/><stop offset=".65" stop-color="#dbdbdb" stop-opacity=".7"/><stop offset="1" stop-color="#d6d6d6" stop-opacity=".5"/></linearGradient>
<linearGradient id="g92" gradientUnits="userSpaceOnUse" x1="0" x2="71" y1="0" y2="0"><stop offset="0" stop-color="#ededed" stop-opacity="1"/><stop offset=".56" stop-color="#ededed" stop-opacity="1"/><stop offset=".65" stop-color="#dbdbdb" stop-opacity=".7"/><stop offset="1" stop-color="#d6d6d6" stop-opacity=".5"/></linearGradient>
<filter id="j7" filterUnits="userSpaceOnUse" x="0" y="0" width="141" height="100" color-interpolation-filters="sRGB"><feTurbulence type="fractalNoise" baseFrequency=".75 .9" numOctaves="2" seed="9" result="n"/><feColorMatrix in="n" type="matrix" values="1 0 0 0 0 1 0 0 0 0 1 0 0 0 0 0 0 0 0 1" result="m"/><feComposite in="SourceGraphic" in2="m" operator="arithmetic" k1=".2" k2=".9" k3="0" k4="0"/><feComponentTransfer><feFuncR type="table" tableValues="0 0 0 0 .5 1 1 1 .5"/><feFuncG type="table" tableValues="0 0 .5 1 1 1 .5 0 0"/><feFuncB type="table" tableValues=".56 1 1 1 .5 0 0 0 0"/></feComponentTransfer><feGaussianBlur stdDeviation=".4"/></filter>
<linearGradient id="g93" gradientUnits="userSpaceOnUse" x1="0" x2="0" y1="0" y2="100"><stop offset="0" stop-color="#747474"/><stop offset=".26" stop-color="#747474"/><stop offset=".28" stop-color="#8f8f8f"/><stop offset=".33" stop-color="#969696"/><stop offset=".38" stop-color="#a4a4a4"/><stop offset=".45" stop-color="#b0b0b0"/><stop offset=".6" stop-color="#b8b8b8"/><stop offset=".75" stop-color="#bebebe"/><stop offset=".85" stop-color="#c7c7c7"/><stop offset=".92" stop-color="#d4d4d4"/><stop offset="1" stop-color="#e6e6e6"/></linearGradient>
<linearGradient id="g94" gradientUnits="userSpaceOnUse" x1="0" x2="141" y1="0" y2="0"><stop offset="0" stop-color="#000" stop-opacity="0"/><stop offset=".28" stop-color="#000" stop-opacity="0"/><stop offset=".64" stop-color="#000" stop-opacity=".13"/><stop offset="1" stop-color="#000" stop-opacity=".14"/></linearGradient>
<linearGradient id="g95" gradientUnits="userSpaceOnUse" x1="0" x2="141" y1="0" y2="0"><stop offset="0" stop-color="#000" stop-opacity="0"/><stop offset=".32" stop-color="#000" stop-opacity="0"/><stop offset=".67" stop-color="#000" stop-opacity=".07"/><stop offset="1" stop-color="#000" stop-opacity=".09"/></linearGradient>
<filter id="b96" x="-50%" y="-50%" width="200%" height="200%"><feGaussianBlur stdDeviation="0 3"/></filter>
<filter id="b97" x="-50%" y="-50%" width="200%" height="200%"><feGaussianBlur stdDeviation="8"/></filter>
<filter id="j8" filterUnits="userSpaceOnUse" x="0" y="0" width="141" height="100" color-interpolation-filters="sRGB"><feTurbulence type="fractalNoise" baseFrequency=".75 .9" numOctaves="2" seed="10" result="n"/><feColorMatrix in="n" type="matrix" values="1 0 0 0 0 1 0 0 0 0 1 0 0 0 0 0 0 0 0 1" result="m"/><feComposite in="SourceGraphic" in2="m" operator="arithmetic" k1=".14" k2=".93" k3="0" k4="0"/><feComponentTransfer><feFuncR type="table" tableValues="0 0 0 0 .5 1 1 1 .5"/><feFuncG type="table" tableValues="0 0 .5 1 1 1 .5 0 0"/><feFuncB type="table" tableValues=".56 1 1 1 .5 0 0 0 0"/></feComponentTransfer><feGaussianBlur stdDeviation=".4"/></filter>
<linearGradient id="g98" gradientUnits="userSpaceOnUse" x1="0" x2="0" y1="0" y2="100"><stop offset="0" stop-color="#535353"/><stop offset=".26" stop-color="#555555"/><stop offset=".27" stop-color="#636363"/><stop offset=".45" stop-color="#6b6b6b"/><stop offset=".62" stop-color="#747474"/><stop offset=".75" stop-color="#7e7e7e"/><stop offset=".85" stop-color="#888888"/><stop offset=".92" stop-color="#949494"/><stop offset=".96" stop-color="#a4a4a4"/><stop offset=".98" stop-color="#c2c2c2"/><stop offset="1" stop-color="#ebebeb"/></linearGradient>
<linearGradient id="g99" gradientUnits="userSpaceOnUse" x1="0" x2="0" y1="0" y2="100"><stop offset="0" stop-color="#fff" stop-opacity=".22"/><stop offset=".26" stop-color="#fff" stop-opacity=".25"/><stop offset=".3" stop-color="#fff" stop-opacity=".15"/><stop offset=".45" stop-color="#fff" stop-opacity=".2"/><stop offset=".6" stop-color="#fff" stop-opacity=".24"/><stop offset=".72" stop-color="#fff" stop-opacity=".27"/><stop offset=".8" stop-color="#fff" stop-opacity=".32"/><stop offset=".86" stop-color="#fff" stop-opacity=".42"/><stop offset=".9" stop-color="#fff" stop-opacity=".6"/><stop offset=".94" stop-color="#fff" stop-opacity=".75"/><stop offset="1" stop-color="#fff" stop-opacity=".75"/></linearGradient>
<filter id="b100" x="-50%" y="-50%" width="200%" height="200%"><feGaussianBlur stdDeviation=".8 0"/></filter>
<linearGradient id="g101" gradientUnits="userSpaceOnUse" x1="0" x2="0" y1="0" y2="100"><stop offset=".27" stop-color="#fff" stop-opacity=".02"/><stop offset=".55" stop-color="#fff" stop-opacity=".06"/><stop offset=".8" stop-color="#fff" stop-opacity=".1"/><stop offset=".92" stop-color="#fff" stop-opacity=".14"/><stop offset="1" stop-color="#fff" stop-opacity=".14"/></linearGradient>
<filter id="b102" x="-50%" y="-50%" width="200%" height="200%"><feGaussianBlur stdDeviation="1.3 0"/></filter>
<linearGradient id="g103" gradientUnits="userSpaceOnUse" x1="0" x2="0" y1="0" y2="100"><stop offset="0" stop-color="#fff" stop-opacity=".22"/><stop offset=".26" stop-color="#fff" stop-opacity=".25"/><stop offset=".3" stop-color="#fff" stop-opacity=".15"/><stop offset=".45" stop-color="#fff" stop-opacity=".2"/><stop offset=".6" stop-color="#fff" stop-opacity=".24"/><stop offset=".72" stop-color="#fff" stop-opacity=".27"/><stop offset=".8" stop-color="#fff" stop-opacity=".32"/><stop offset=".86" stop-color="#fff" stop-opacity=".42"/><stop offset=".9" stop-color="#fff" stop-opacity=".6"/><stop offset=".94" stop-color="#fff" stop-opacity=".75"/><stop offset="1" stop-color="#fff" stop-opacity=".75"/></linearGradient>
<linearGradient id="g104" gradientUnits="userSpaceOnUse" x1="0" x2="0" y1="0" y2="100"><stop offset=".27" stop-color="#fff" stop-opacity=".02"/><stop offset=".55" stop-color="#fff" stop-opacity=".06"/><stop offset=".8" stop-color="#fff" stop-opacity=".1"/><stop offset=".92" stop-color="#fff" stop-opacity=".14"/><stop offset="1" stop-color="#fff" stop-opacity=".14"/></linearGradient>
<linearGradient id="g105" gradientUnits="userSpaceOnUse" x1="0" x2="0" y1="0" y2="100"><stop offset="0" stop-color="#fff" stop-opacity=".22"/><stop offset=".26" stop-color="#fff" stop-opacity=".25"/><stop offset=".3" stop-color="#fff" stop-opacity=".15"/><stop offset=".45" stop-color="#fff" stop-opacity=".2"/><stop offset=".6" stop-color="#fff" stop-opacity=".24"/><stop offset=".72" stop-color="#fff" stop-opacity=".27"/><stop offset=".8" stop-color="#fff" stop-opacity=".32"/><stop offset=".86" stop-color="#fff" stop-opacity=".42"/><stop offset=".9" stop-color="#fff" stop-opacity=".6"/><stop offset=".94" stop-color="#fff" stop-opacity=".75"/><stop offset="1" stop-color="#fff" stop-opacity=".75"/></linearGradient>
<linearGradient id="g106" gradientUnits="userSpaceOnUse" x1="0" x2="0" y1="0" y2="100"><stop offset=".27" stop-color="#fff" stop-opacity=".02"/><stop offset=".55" stop-color="#fff" stop-opacity=".06"/><stop offset=".8" stop-color="#fff" stop-opacity=".1"/><stop offset=".92" stop-color="#fff" stop-opacity=".14"/><stop offset="1" stop-color="#fff" stop-opacity=".14"/></linearGradient>
<linearGradient id="g107" gradientUnits="userSpaceOnUse" x1="0" x2="0" y1="0" y2="100"><stop offset="0" stop-color="#fff" stop-opacity=".22"/><stop offset=".26" stop-color="#fff" stop-opacity=".25"/><stop offset=".3" stop-color="#fff" stop-opacity=".15"/><stop offset=".45" stop-color="#fff" stop-opacity=".2"/><stop offset=".6" stop-color="#fff" stop-opacity=".24"/><stop offset=".72" stop-color="#fff" stop-opacity=".27"/><stop offset=".8" stop-color="#fff" stop-opacity=".32"/><stop offset=".86" stop-color="#fff" stop-opacity=".42"/><stop offset=".9" stop-color="#fff" stop-opacity=".6"/><stop offset=".94" stop-color="#fff" stop-opacity=".75"/><stop offset="1" stop-color="#fff" stop-opacity=".75"/></linearGradient>
<linearGradient id="g108" gradientUnits="userSpaceOnUse" x1="0" x2="0" y1="0" y2="100"><stop offset=".27" stop-color="#fff" stop-opacity=".02"/><stop offset=".55" stop-color="#fff" stop-opacity=".06"/><stop offset=".8" stop-color="#fff" stop-opacity=".1"/><stop offset=".92" stop-color="#fff" stop-opacity=".14"/><stop offset="1" stop-color="#fff" stop-opacity=".14"/></linearGradient>
<linearGradient id="g109" gradientUnits="userSpaceOnUse" x1="0" x2="0" y1="0" y2="100"><stop offset="0" stop-color="#fff" stop-opacity=".22"/><stop offset=".26" stop-color="#fff" stop-opacity=".25"/><stop offset=".3" stop-color="#fff" stop-opacity=".15"/><stop offset=".45" stop-color="#fff" stop-opacity=".2"/><stop offset=".6" stop-color="#fff" stop-opacity=".24"/><stop offset=".72" stop-color="#fff" stop-opacity=".27"/><stop offset=".8" stop-color="#fff" stop-opacity=".32"/><stop offset=".86" stop-color="#fff" stop-opacity=".42"/><stop offset=".9" stop-color="#fff" stop-opacity=".6"/><stop offset=".94" stop-color="#fff" stop-opacity=".75"/><stop offset="1" stop-color="#fff" stop-opacity=".75"/></linearGradient>
<linearGradient id="g110" gradientUnits="userSpaceOnUse" x1="0" x2="0" y1="0" y2="100"><stop offset=".27" stop-color="#fff" stop-opacity=".02"/><stop offset=".55" stop-color="#fff" stop-opacity=".06"/><stop offset=".8" stop-color="#fff" stop-opacity=".1"/><stop offset=".92" stop-color="#fff" stop-opacity=".14"/><stop offset="1" stop-color="#fff" stop-opacity=".14"/></linearGradient>
<linearGradient id="g111" gradientUnits="userSpaceOnUse" x1="0" x2="70" y1="0" y2="0"><stop offset="0" stop-color="#fff" stop-opacity=".12"/><stop offset="1" stop-color="#fff" stop-opacity=".03"/></linearGradient>
<filter id="b112" x="-50%" y="-50%" width="200%" height="200%"><feGaussianBlur stdDeviation="0 1.5"/></filter>
</defs>
<g transform="translate(30,26)"><g filter="url(#j0)" shape-rendering="crispEdges"><rect x="0" y="0" width="141" height="100" fill="url(#g1)"/><path d="M7.5 0V26.6M27.5 0V26.6M44.5 0V26.6M45.5 0V26.6M61.5 0V26.6M138.5 0V26.6" stroke="#000" stroke-opacity=".15"/><path d="M34.5 0V26.6M137.5 0V26.6" stroke="#000" stroke-opacity=".12"/><path d="M4.5 0V26.6M10.5 0V26.6M32.5 0V26.6M56.5 0V26.6M62.5 0V26.6M69.5 0V26.6M83.5 0V26.6M103.5 0V26.6M135.5 0V26.6M140.5 0V26.6" stroke="#000" stroke-opacity=".09"/><path d="M1.5 0V26.6M2.5 0V26.6M15.5 0V26.6M19.5 0V26.6M25.5 0V26.6M26.5 0V26.6M29.5 0V26.6M30.5 0V26.6M36.5 0V26.6M43.5 0V26.6M54.5 0V26.6M60.5 0V26.6M66.5 0V26.6M67.5 0V26.6M68.5 0V26.6M99.5 0V26.6M100.5 0V26.6M109.5 0V26.6M114.5 0V26.6M121.5 0V26.6M136.5 0V26.6" stroke="#000" stroke-opacity=".06"/><path d="M3.5 0V26.6M5.5 0V26.6M6.5 0V26.6M9.5 0V26.6M11.5 0V26.6M52.5 0V26.6M58.5 0V26.6M71.5 0V26.6M75.5 0V26.6M79.5 0V26.6M84.5 0V26.6M85.5 0V26.6M86.5 0V26.6M98.5 0V26.6M105.5 0V26.6M107.5 0V26.6M110.5 0V26.6M116.5 0V26.6M117.5 0V26.6M132.5 0V26.6M134.5 0V26.6" stroke="#000" stroke-opacity=".03"/><path d="M14.5 0V26.6M21.5 0V26.6M24.5 0V26.6M28.5 0V26.6M41.5 0V26.6M46.5 0V26.6M72.5 0V26.6M76.5 0V26.6M92.5 0V26.6M93.5 0V26.6M94.5 0V26.6M95.5 0V26.6M101.5 0V26.6M111.5 0V26.6M124.5 0V26.6M126.5 0V26.6M133.5 0V26.6" stroke="#fff" stroke-opacity=".03"/><path d="M8.5 0V26.6M13.5 0V26.6M16.5 0V26.6M18.5 0V26.6M33.5 0V26.6M48.5 0V26.6M89.5 0V26.6M90.5 0V26.6M97.5 0V26.6M104.5 0V26.6M122.5 0V26.6M123.5 0V26.6M125.5 0V26.6M127.5 0V26.6M129.5 0V26.6" stroke="#fff" stroke-opacity=".06"/><path d="M12.5 0V26.6M17.5 0V26.6M40.5 0V26.6M42.5 0V26.6M57.5 0V26.6M59.5 0V26.6M77.5 0V26.6M80.5 0V26.6M91.5 0V26.6M102.5 0V26.6M113.5 0V26.6M128.5 0V26.6" stroke="#fff" stroke-opacity=".09"/><path d="M31.5 0V26.6M70.5 0V26.6M73.5 0V26.6M74.5 0V26.6M81.5 0V26.6M87.5 0V26.6M108.5 0V26.6M112.5 0V26.6" stroke="#fff" stroke-opacity=".12"/><path d="M.5 0V26.6M20.5 0V26.6M23.5 0V26.6M37.5 0V26.6M38.5 0V26.6M47.5 0V26.6M50.5 0V26.6M63.5 0V26.6M88.5 0V26.6M96.5 0V26.6M106.5 0V26.6M119.5 0V26.6" stroke="#fff" stroke-opacity=".15"/><path d="M1 24h2.05M4.51 24h2.05M8.66 24h1.86M12.22 24h2.06M16.44 24h2.18M24.5 24h2.5M28.4 24h2.92M33.42 24h2.58M42.18 24h2.2M50.29 24h1.95M59.12 24h2.06M62.67 24h2.62M79.42 24h2.14M83.7 24h2.71M92.03 24h2M95.14 24h2.63M103.68 24h1.91M107.3 24h2.27M114.54 24h2.32M118.39 24h2.55M122.42 24h3.47M127.85 24h1.75M130.91 24h1.68M133.5 24h1.97M137.23 24h2.9" stroke="#b2b2b2" stroke-width="1.7" stroke-opacity=".85"/><path d="M63 14h2.04M66.24 14h2.2M69.64 14h.36M79.5 14h3.92M87.5 14h3.79M100 14h2.41M103.61 14h2.51M107.32 14h3.92M112.44 14h2.56M132 14h2.74M135.94 14h2.06M10 14.5h1.5M14 14.5h1.5M51 14.5h1.5" stroke="#b0b0b0" stroke-width="1.6" stroke-opacity=".8"/><path d="M1.2 28V99M4.32 28V99M7.44 28V99M10.56 28V99M13.68 28V99M16.8 28V99M19.92 28V99M23.04 28V99M26.16 28V99M29.28 28V99M32.4 28V99M35.52 28V99M38.64 28V99M41.76 28V99M44.88 28V99M48 28V99M51.12 28V99M54.24 28V99M57.36 28V99M60.48 28V99M63.6 28V99M66.72 28V99M69.84 28V99M72.96 28V99M76.08 28V99M79.2 28V99M82.32 28V99M85.44 28V99M88.56 28V99M91.68 28V99M94.8 28V99M97.92 28V99M101.04 28V99M104.16 28V99M107.28 28V99M110.4 28V99M113.52 28V99M116.64 28V99M119.76 28V99M122.88 28V99M126 28V99M129.12 28V99M132.24 28V99M135.36 28V99M138.48 28V99" stroke="#000" stroke-opacity=".04" stroke-width="1.2"/><path d="M2.7 37.2V39.6M2.7 53.5V61M5.82 37.2V39.6M5.82 53.5V61M8.94 37.2V39.6M8.94 53.5V61M12.06 37.2V39.6M12.06 53.5V61M15.18 37.2V39.6M15.18 53.5V61M18.3 37.2V39.6M18.3 53.5V61M21.42 37.2V39.6M21.42 53.5V61M24.54 37.2V39.6M24.54 53.5V61M27.66 37.2V39.6M27.66 53.5V61M30.78 37.2V39.6M30.78 53.5V61M33.9 37.2V39.6M33.9 53.5V61M37.02 37.2V39.6M37.02 53.5V61M40.14 37.2V39.6M40.14 53.5V61M43.26 37.2V39.6M43.26 53.5V61M46.38 37.2V39.6M46.38 53.5V61M49.5 37.2V39.6M49.5 53.5V61M52.62 37.2V39.6M52.62 53.5V61M55.74 37.2V39.6M55.74 53.5V61M58.86 37.2V39.6M58.86 53.5V61M61.98 37.2V39.6M61.98 53.5V61M65.1 37.2V39.6M65.1 53.5V61M68.22 37.2V39.6M68.22 53.5V61M71.34 37.2V39.6M71.34 53.5V61M74.46 37.2V39.6M74.46 53.5V61M77.58 37.2V39.6M77.58 53.5V61M80.7 37.2V39.6M80.7 53.5V61M83.82 37.2V39.6M83.82 53.5V61M86.94 37.2V39.6M86.94 53.5V61M90.06 37.2V39.6M90.06 53.5V61M93.18 37.2V39.6M93.18 53.5V61M96.3 37.2V39.6M96.3 53.5V61M99.42 37.2V39.6M99.42 53.5V61M102.54 37.2V39.6M102.54 53.5V61M105.66 37.2V39.6M105.66 53.5V61M108.78 37.2V39.6M108.78 53.5V61M111.9 37.2V39.6M111.9 53.5V61M115.02 37.2V39.6M115.02 53.5V61M118.14 37.2V39.6M118.14 53.5V61M121.26 37.2V39.6M121.26 53.5V61M124.38 37.2V39.6M124.38 53.5V61M127.5 37.2V39.6M127.5 53.5V61M130.62 37.2V39.6M130.62 53.5V61M133.74 37.2V39.6M133.74 53.5V61M136.86 37.2V39.6M136.86 53.5V61M139.98 37.2V39.6M139.98 53.5V61" stroke="#000" stroke-opacity=".09" stroke-width="1.4"/></g><rect x=".5" y=".5" width="140" height="99" fill="none" stroke="#222" stroke-width="1"/><path d="M28.5 1v1.6M28.5 99v-1.6M56.5 1v1.6M56.5 99v-1.6M84.5 1v1.6M84.5 99v-1.6M112.5 1v1.6M112.5 99v-1.6M1 76.98h1.6M140 76.98h-1.6M1 54.47h1.6M140 54.47h-1.6M1 31.95h1.6M140 31.95h-1.6M1 9.44h1.6M140 9.44h-1.6" stroke="#222" stroke-width=".9"/><text x="70" y="-7.2" text-anchor="middle">Helicopter</text><text x="70.2" y="119.5" text-anchor="middle">Time/s</text><text transform="translate(-17.5,50) rotate(-90)" text-anchor="middle">Frequency/Hz</text><text x=".4" y="110.8" text-anchor="middle" class="t">0</text><text x="28.25" y="110.8" text-anchor="middle" class="t">1</text><text x="56.1" y="110.8" text-anchor="middle" class="t">2</text><text x="83.95" y="110.8" text-anchor="middle" class="t">3</text><text x="111.8" y="110.8" text-anchor="middle" class="t">4</text><text x="139.65" y="110.8" text-anchor="middle" class="t">5</text><text x="-.8" y="81.08" text-anchor="end" class="t">0.5</text><text x="-.8" y="58.57" text-anchor="end" class="t">1</text><text x="-.8" y="36.05" text-anchor="end" class="t">1.5</text><text x="-.8" y="13.54" text-anchor="end" class="t">2</text><text x=".7" y="-1.8" class="t">x<tspan x="6.8">10</tspan><tspan dy="-4.8" font-size="6.4">4</tspan></text></g>
<g transform="translate(216,26)"><g filter="url(#j1)" shape-rendering="crispEdges"><rect x="0" y="0" width="141" height="100" fill="url(#g2)"/><path d="M1.5 0V62M6.5 0V62M91.5 0V62M92.5 0V62" stroke="#000" stroke-opacity=".08"/><path d="M5.5 0V62M8.5 0V62M22.5 0V62M32.5 0V62M42.5 0V62M43.5 0V62M46.5 0V62M47.5 0V62M51.5 0V62M90.5 0V62M93.5 0V62M124.5 0V62M131.5 0V62" stroke="#000" stroke-opacity=".05"/><path d="M12.5 0V62M23.5 0V62M24.5 0V62M35.5 0V62M49.5 0V62M69.5 0V62M79.5 0V62M83.5 0V62M84.5 0V62M87.5 0V62M102.5 0V62M104.5 0V62M116.5 0V62M123.5 0V62M133.5 0V62" stroke="#000" stroke-opacity=".03"/><path d="M16.5 0V62M20.5 0V62M27.5 0V62M55.5 0V62M57.5 0V62M64.5 0V62M68.5 0V62M73.5 0V62M88.5 0V62M97.5 0V62M98.5 0V62M103.5 0V62M119.5 0V62M125.5 0V62M137.5 0V62M139.5 0V62" stroke="#fff" stroke-opacity=".03"/><path d="M9.5 0V62M18.5 0V62M21.5 0V62M48.5 0V62M52.5 0V62M54.5 0V62M63.5 0V62M67.5 0V62M96.5 0V62M99.5 0V62M101.5 0V62M108.5 0V62M129.5 0V62M135.5 0V62" stroke="#fff" stroke-opacity=".05"/><path d="M7.5 0V62M10.5 0V62M29.5 0V62M31.5 0V62M38.5 0V62M45.5 0V62M66.5 0V62M74.5 0V62M85.5 0V62M94.5 0V62M100.5 0V62M105.5 0V62M111.5 0V62M121.5 0V62M126.5 0V62" stroke="#fff" stroke-opacity=".08"/><path d="M25.5 0V62M40.5 0V62M41.5 0V62M71.5 0V62M76.5 0V62M77.5 0V62M106.5 0V62M113.5 0V62" stroke="#fff" stroke-opacity=".1"/><path d="M28.5 0V62M36.5 0V62M61.5 0V62M78.5 0V62M95.5 0V62M110.5 0V62M122.5 0V62M138.5 0V62" stroke="#fff" stroke-opacity=".12"/><path d="M3.5 0V62M130.5 0V62" stroke="#fff" stroke-opacity=".15"/><path d="M72.5 0V62M86.5 0V62" stroke="#fff" stroke-opacity=".23"/></g><rect x=".5" y=".5" width="140" height="99" fill="none" stroke="#222" stroke-width="1"/><path d="M28.5 1v1.6M28.5 99v-1.6M56.5 1v1.6M56.5 99v-1.6M84.5 1v1.6M84.5 99v-1.6M112.5 1v1.6M112.5 99v-1.6M1 76.98h1.6M140 76.98h-1.6M1 54.47h1.6M140 54.47h-1.6M1 31.95h1.6M140 31.95h-1.6M1 9.44h1.6M140 9.44h-1.6" stroke="#222" stroke-width=".9"/><text x="70" y="-7.2" text-anchor="middle">Rain</text><text x="70.2" y="119.5" text-anchor="middle">Time/s</text><text transform="translate(-17.5,50) rotate(-90)" text-anchor="middle">Frequency/Hz</text><text x=".4" y="110.8" text-anchor="middle" class="t">0</text><text x="28.25" y="110.8" text-anchor="middle" class="t">1</text><text x="56.1" y="110.8" text-anchor="middle" class="t">2</text><text x="83.95" y="110.8" text-anchor="middle" class="t">3</text><text x="111.8" y="110.8" text-anchor="middle" class="t">4</text><text x="139.65" y="110.8" text-anchor="middle" class="t">5</text><text x="-.8" y="81.08" text-anchor="end" class="t">0.5</text><text x="-.8" y="58.57" text-anchor="end" class="t">1</text><text x="-.8" y="36.05" text-anchor="end" class="t">1.5</text><text x="-.8" y="13.54" text-anchor="end" class="t">2</text><text x=".7" y="-1.8" class="t">x<tspan x="6.8">10</tspan><tspan dy="-4.8" font-size="6.4">4</tspan></text></g>
<g transform="translate(402,26)"><g filter="url(#j2)" shape-rendering="crispEdges"><rect x="0" y="0" width="60" height="100" fill="url(#g3)"/><rect x="59" y="0" width="82" height="100" fill="url(#g4)"/><rect x="100" y="0" width="41" height="65" fill="url(#g5)"/><rect x="100" y="65" width="41" height="15" fill="url(#g6)"/><rect x="60.5" y="27" width="6.5" height="68" fill="url(#g7)" fill-opacity="1" filter="url(#b8)"/><ellipse cx="36" cy="74" rx="22" ry="20" fill="#cccccc" fill-opacity=".2" filter="url(#b9)"/><rect x="0" y="0" width="5" height="100" fill="url(#g10)"/><rect x="5" y="0" width="3" height="26.8" fill="#5e5e5e"/><rect x="5" y="27" width="4.5" height="73" fill="url(#g11)"/><rect x="5" y="88" width="4.5" height="12" fill="url(#g12)"/><path d="M15.5 0V26.8M25.5 0V26.8M26.5 0V26.8M41.5 0V26.8M49.5 0V26.8" stroke="#000" stroke-opacity=".09"/><path d="M21.5 0V26.8M30.5 0V26.8M33.5 0V26.8M34.5 0V26.8M36.5 0V26.8M45.5 0V26.8M53.5 0V26.8" stroke="#000" stroke-opacity=".06"/><path d="M24.5 0V26.8M27.5 0V26.8M35.5 0V26.8M37.5 0V26.8M46.5 0V26.8M59.5 0V26.8" stroke="#000" stroke-opacity=".03"/><path d="M8.5 0V26.8M13.5 0V26.8M32.5 0V26.8M48.5 0V26.8M57.5 0V26.8" stroke="#fff" stroke-opacity=".03"/><path d="M9.5 0V26.8M11.5 0V26.8M23.5 0V26.8M51.5 0V26.8M55.5 0V26.8" stroke="#fff" stroke-opacity=".06"/><path d="M17.5 0V26.8M19.5 0V26.8M28.5 0V26.8M52.5 0V26.8M54.5 0V26.8" stroke="#fff" stroke-opacity=".09"/><path d="M39.5 0V26.8M43.5 0V26.8M58.5 0V26.8" stroke="#fff" stroke-opacity=".12"/><path d="M12.5 0V26.8M38.5 0V26.8" stroke="#fff" stroke-opacity=".15"/><path d="M44.5 0V26.8" stroke="#fff" stroke-opacity=".18"/><path d="M10.5 0V26.8M14.5 0V26.8M18.5 0V26.8" stroke="#fff" stroke-opacity=".24"/><path d="M88.5 0V26.8" stroke="#000" stroke-opacity=".09"/><path d="M77.5 0V26.8M90.5 0V26.8M108.5 0V26.8" stroke="#000" stroke-opacity=".06"/><path d="M63.5 0V26.8M76.5 0V26.8M87.5 0V26.8M89.5 0V26.8M93.5 0V26.8M96.5 0V26.8M100.5 0V26.8M109.5 0V26.8M110.5 0V26.8M113.5 0V26.8M118.5 0V26.8M122.5 0V26.8M123.5 0V26.8M124.5 0V26.8M128.5 0V26.8M136.5 0V26.8M137.5 0V26.8M138.5 0V26.8M140.5 0V26.8" stroke="#000" stroke-opacity=".03"/><path d="M59.5 0V26.8M60.5 0V26.8M61.5 0V26.8M65.5 0V26.8M70.5 0V26.8M73.5 0V26.8M74.5 0V26.8M78.5 0V26.8M79.5 0V26.8M83.5 0V26.8M94.5 0V26.8M103.5 0V26.8M104.5 0V26.8M116.5 0V26.8M129.5 0V26.8M131.5 0V26.8" stroke="#fff" stroke-opacity=".03"/><path d="M64.5 0V26.8M68.5 0V26.8M80.5 0V26.8M99.5 0V26.8M106.5 0V26.8M119.5 0V26.8M139.5 0V26.8" stroke="#fff" stroke-opacity=".06"/><path d="M66.5 0V26.8M81.5 0V26.8M102.5 0V26.8M120.5 0V26.8M121.5 0V26.8M125.5 0V26.8" stroke="#fff" stroke-opacity=".09"/><path d="M82.5 0V26.8M85.5 0V26.8" stroke="#fff" stroke-opacity=".12"/><path d="M62.5 0V26.8M69.5 0V26.8" stroke="#fff" stroke-opacity=".15"/><path d="M61.5 0V26.8M64.5 0V26.8M72.5 0V26.8M79.5 0V26.8M88.5 0V26.8M101.5 0V26.8M108.5 0V26.8M118.5 0V26.8M131.5 0V26.8" stroke="#b2b2b2" stroke-opacity=".45"/><path d="M105.5 27V100" stroke="#000" stroke-opacity=".08"/><path d="M36.5 27V100M77.5 27V100M109.5 27V100M129.5 27V100M132.5 27V100M135.5 27V100M138.5 27V100" stroke="#000" stroke-opacity=".06"/><path d="M14.5 27V100M24.5 27V100M25.5 27V100M55.5 27V100M59.5 27V100M61.5 27V100M64.5 27V100M89.5 27V100M95.5 27V100M97.5 27V100M101.5 27V100M108.5 27V100M125.5 27V100M127.5 27V100M133.5 27V100M136.5 27V100M137.5 27V100M140.5 27V100" stroke="#000" stroke-opacity=".04"/><path d="M11.5 27V100M12.5 27V100M13.5 27V100M21.5 27V100M26.5 27V100M39.5 27V100M40.5 27V100M43.5 27V100M47.5 27V100M58.5 27V100M70.5 27V100M71.5 27V100M79.5 27V100M82.5 27V100M85.5 27V100M86.5 27V100M87.5 27V100M94.5 27V100M98.5 27V100M102.5 27V100M111.5 27V100M114.5 27V100M128.5 27V100M130.5 27V100" stroke="#000" stroke-opacity=".02"/><path d="M16.5 27V100M33.5 27V100M34.5 27V100M45.5 27V100M48.5 27V100M49.5 27V100M54.5 27V100M56.5 27V100M57.5 27V100M62.5 27V100M63.5 27V100M72.5 27V100M84.5 27V100M96.5 27V100M103.5 27V100M110.5 27V100M116.5 27V100M123.5 27V100M124.5 27V100M139.5 27V100" stroke="#fff" stroke-opacity=".02"/><path d="M8.5 27V100M23.5 27V100M29.5 27V100M30.5 27V100M31.5 27V100M32.5 27V100M41.5 27V100M46.5 27V100M50.5 27V100M51.5 27V100M52.5 27V100M66.5 27V100M67.5 27V100M68.5 27V100M80.5 27V100M88.5 27V100M90.5 27V100M92.5 27V100M107.5 27V100M113.5 27V100M117.5 27V100M126.5 27V100" stroke="#fff" stroke-opacity=".04"/><path d="M10.5 27V100M22.5 27V100M28.5 27V100M44.5 27V100M74.5 27V100M75.5 27V100M76.5 27V100M81.5 27V100M93.5 27V100M104.5 27V100M106.5 27V100M119.5 27V100" stroke="#fff" stroke-opacity=".06"/><path d="M9.5 27V100M38.5 27V100M118.5 27V100" stroke="#fff" stroke-opacity=".08"/><path d="M73.5 27V100M122.5 27V100" stroke="#fff" stroke-opacity=".1"/><rect x="67" y="0" width="2" height="100" fill="url(#g13)" fill-opacity=".55" filter="url(#b14)"/><rect x="95.5" y="0" width="2.2" height="100" fill="url(#g15)" fill-opacity=".5" filter="url(#b14)"/><rect x="8.5" y="0" width="1" height="100" fill="url(#g16)" fill-opacity=".55" filter="url(#b14)"/><rect x="62" y="0" width="1" height="100" fill="url(#g17)" fill-opacity=".4" filter="url(#b14)"/><rect x="71" y="0" width="1" height="100" fill="url(#g18)" fill-opacity=".4" filter="url(#b14)"/><rect x="99" y="0" width="1" height="100" fill="url(#g19)" fill-opacity=".35" filter="url(#b14)"/><rect x="57" y="0" width="1.5" height="100" fill="url(#g20)" fill-opacity=".35" filter="url(#b14)"/><rect x="92" y="27" width="9" height="73" fill="url(#g21)"/><rect x="8" y="92.4" width="133" height="1.5" fill="#dbdbdb" fill-opacity=".5"/><rect x="6" y="96" width="135" height="4" fill="#ebebeb" fill-opacity=".4"/><rect x="60" y="76" width="81" height="3" fill="#b8b8b8" fill-opacity=".3" filter="url(#b22)"/></g><rect x=".5" y=".5" width="140" height="99" fill="none" stroke="#222" stroke-width="1"/><path d="M28.5 1v1.6M28.5 99v-1.6M56.5 1v1.6M56.5 99v-1.6M84.5 1v1.6M84.5 99v-1.6M112.5 1v1.6M112.5 99v-1.6M1 76.98h1.6M140 76.98h-1.6M1 54.47h1.6M140 54.47h-1.6M1 31.95h1.6M140 31.95h-1.6M1 9.44h1.6M140 9.44h-1.6" stroke="#222" stroke-width=".9"/><text x="70" y="-7.2" text-anchor="middle">Chainsaw</text><text x="70.2" y="119.5" text-anchor="middle">Time/s</text><text transform="translate(-17.5,50) rotate(-90)" text-anchor="middle">Frequency/Hz</text><text x=".4" y="110.8" text-anchor="middle" class="t">0</text><text x="28.25" y="110.8" text-anchor="middle" class="t">1</text><text x="56.1" y="110.8" text-anchor="middle" class="t">2</text><text x="83.95" y="110.8" text-anchor="middle" class="t">3</text><text x="111.8" y="110.8" text-anchor="middle" class="t">4</text><text x="139.65" y="110.8" text-anchor="middle" class="t">5</text><text x="-.8" y="81.08" text-anchor="end" class="t">0.5</text><text x="-.8" y="58.57" text-anchor="end" class="t">1</text><text x="-.8" y="36.05" text-anchor="end" class="t">1.5</text><text x="-.8" y="13.54" text-anchor="end" class="t">2</text><text x=".7" y="-1.8" class="t">x<tspan x="6.8">10</tspan><tspan dy="-4.8" font-size="6.4">4</tspan></text></g>
<g transform="translate(30,166)"><g filter="url(#j3)" shape-rendering="crispEdges"><rect x="0" y="0" width="141" height="100" fill="url(#g23)"/><path d="M23.5 0V26.5" stroke="#000" stroke-opacity=".1"/><path d="M29.5 0V26.5M105.5 0V26.5" stroke="#000" stroke-opacity=".08"/><path d="M24.5 0V26.5M28.5 0V26.5M30.5 0V26.5M50.5 0V26.5M51.5 0V26.5M74.5 0V26.5M75.5 0V26.5M81.5 0V26.5M90.5 0V26.5M91.5 0V26.5M95.5 0V26.5M96.5 0V26.5M104.5 0V26.5M106.5 0V26.5M119.5 0V26.5M131.5 0V26.5M132.5 0V26.5" stroke="#000" stroke-opacity=".06"/><path d="M6.5 0V26.5M7.5 0V26.5M11.5 0V26.5M25.5 0V26.5M26.5 0V26.5M27.5 0V26.5M31.5 0V26.5M49.5 0V26.5M62.5 0V26.5M63.5 0V26.5M71.5 0V26.5M72.5 0V26.5M94.5 0V26.5M97.5 0V26.5M103.5 0V26.5M120.5 0V26.5M122.5 0V26.5" stroke="#000" stroke-opacity=".04"/><path d="M5.5 0V26.5M8.5 0V26.5M14.5 0V26.5M15.5 0V26.5M77.5 0V26.5M80.5 0V26.5M93.5 0V26.5M98.5 0V26.5M102.5 0V26.5M109.5 0V26.5M110.5 0V26.5M111.5 0V26.5M118.5 0V26.5M124.5 0V26.5M128.5 0V26.5M133.5 0V26.5M134.5 0V26.5M135.5 0V26.5" stroke="#000" stroke-opacity=".02"/><path d="M1.5 0V26.5M9.5 0V26.5M20.5 0V26.5M21.5 0V26.5M33.5 0V26.5M54.5 0V26.5M60.5 0V26.5M61.5 0V26.5M113.5 0V26.5M117.5 0V26.5M129.5 0V26.5M136.5 0V26.5M137.5 0V26.5M139.5 0V26.5" stroke="#fff" stroke-opacity=".02"/><path d="M16.5 0V26.5M38.5 0V26.5M39.5 0V26.5M44.5 0V26.5M53.5 0V26.5M55.5 0V26.5M64.5 0V26.5M65.5 0V26.5M66.5 0V26.5M68.5 0V26.5M86.5 0V26.5M88.5 0V26.5M100.5 0V26.5M126.5 0V26.5M130.5 0V26.5" stroke="#fff" stroke-opacity=".04"/><path d="M13.5 0V26.5M17.5 0V26.5M18.5 0V26.5M36.5 0V26.5M37.5 0V26.5M41.5 0V26.5M45.5 0V26.5M56.5 0V26.5M57.5 0V26.5M58.5 0V26.5M83.5 0V26.5M85.5 0V26.5M138.5 0V26.5" stroke="#fff" stroke-opacity=".06"/><path d="M40.5 0V26.5M43.5 0V26.5M67.5 0V26.5M84.5 0V26.5M87.5 0V26.5M101.5 0V26.5" stroke="#fff" stroke-opacity=".08"/><path d="M42.5 0V26.5M46.5 0V26.5M47.5 0V26.5" stroke="#fff" stroke-opacity=".1"/><rect x="14.3" y="0" width="1.6" height="26.5" fill="#787878" fill-opacity=".9"/><rect x="11.3" y="0" width="3" height="26.5" fill="#5c5c5c" fill-opacity=".35"/><rect x="15.9" y="0" width="2" height="26.5" fill="#5c5c5c" fill-opacity=".3"/><rect x="14.2" y="27" width="1.9" height="73" fill="url(#g24)" filter="url(#b25)"/><ellipse cx="15.6" cy="93.5" rx="1.8" ry="3.8" fill="#e6e6e6" fill-opacity=".9" filter="url(#b26)"/><path d="M14.9 87L20.9 93L27.9 97.5L29.9 100H14.9z" fill="#fff" fill-opacity=".18" filter="url(#b27)"/><rect x="16.9" y="92.2" width="12" height="2.2" fill="#a8a8a8" fill-opacity=".5" filter="url(#b28)"/><rect x="44.3" y="0" width="1.6" height="26.5" fill="#787878" fill-opacity=".9"/><rect x="41.3" y="0" width="3" height="26.5" fill="#5c5c5c" fill-opacity=".35"/><rect x="45.9" y="0" width="2" height="26.5" fill="#5c5c5c" fill-opacity=".3"/><rect x="44.2" y="27" width="1.9" height="73" fill="url(#g29)" filter="url(#b25)"/><ellipse cx="45.6" cy="93.5" rx="1.8" ry="3.8" fill="#e6e6e6" fill-opacity=".9" filter="url(#b26)"/><path d="M44.9 87L50.9 93L57.9 97.5L59.9 100H44.9z" fill="#fff" fill-opacity=".18" filter="url(#b27)"/><rect x="46.9" y="92.2" width="12" height="2.2" fill="#a8a8a8" fill-opacity=".5" filter="url(#b28)"/><rect x="71.6" y="0" width="1.6" height="26.5" fill="#787878" fill-opacity=".9"/><rect x="68.6" y="0" width="3" height="26.5" fill="#5c5c5c" fill-opacity=".35"/><rect x="73.2" y="0" width="2" height="26.5" fill="#5c5c5c" fill-opacity=".3"/><rect x="71.5" y="27" width="1.9" height="73" fill="url(#g30)" filter="url(#b25)"/><ellipse cx="72.9" cy="93.5" rx="1.8" ry="3.8" fill="#e6e6e6" fill-opacity=".9" filter="url(#b26)"/><path d="M72.2 87L78.2 93L85.2 97.5L87.2 100H72.2z" fill="#fff" fill-opacity=".18" filter="url(#b27)"/><rect x="74.2" y="92.2" width="12" height="2.2" fill="#a8a8a8" fill-opacity=".5" filter="url(#b28)"/><rect x="100.8" y="0" width="1.6" height="26.5" fill="#787878" fill-opacity=".9"/><rect x="97.8" y="0" width="3" height="26.5" fill="#5c5c5c" fill-opacity=".35"/><rect x="102.4" y="0" width="2" height="26.5" fill="#5c5c5c" fill-opacity=".3"/><rect x="100.7" y="27" width="1.9" height="73" fill="url(#g31)" filter="url(#b25)"/><ellipse cx="102.1" cy="93.5" rx="1.8" ry="3.8" fill="#e6e6e6" fill-opacity=".9" filter="url(#b26)"/><path d="M101.4 87L107.4 93L114.4 97.5L116.4 100H101.4z" fill="#fff" fill-opacity=".18" filter="url(#b27)"/><rect x="103.4" y="92.2" width="12" height="2.2" fill="#a8a8a8" fill-opacity=".5" filter="url(#b28)"/><rect x="128" y="0" width="1.6" height="26.5" fill="#787878" fill-opacity=".9"/><rect x="125" y="0" width="3" height="26.5" fill="#5c5c5c" fill-opacity=".35"/><rect x="129.6" y="0" width="2" height="26.5" fill="#5c5c5c" fill-opacity=".3"/><rect x="127.9" y="27" width="1.9" height="73" fill="url(#g32)" filter="url(#b25)"/><ellipse cx="129.3" cy="93.5" rx="1.8" ry="3.8" fill="#e6e6e6" fill-opacity=".9" filter="url(#b26)"/><path d="M128.6 87L134.6 93L141.6 97.5L143.6 100H128.6z" fill="#fff" fill-opacity=".18" filter="url(#b27)"/><rect x="130.6" y="92.2" width="12" height="2.2" fill="#a8a8a8" fill-opacity=".5" filter="url(#b28)"/><ellipse cx="15.1" cy="50" rx="1.1" ry="2" fill="#bdbdbd" fill-opacity=".42" filter="url(#b33)"/><ellipse cx="15.1" cy="58" rx="1.1" ry="2" fill="#bdbdbd" fill-opacity=".51" filter="url(#b33)"/><ellipse cx="15.1" cy="66" rx="1.1" ry="2" fill="#bdbdbd" fill-opacity=".42" filter="url(#b33)"/><ellipse cx="15.1" cy="73" rx="1.1" ry="2" fill="#bdbdbd" fill-opacity=".42" filter="url(#b33)"/><ellipse cx="45.1" cy="53" rx="1.1" ry="2" fill="#bdbdbd" fill-opacity=".59" filter="url(#b33)"/><ellipse cx="45.1" cy="76" rx="1.1" ry="2" fill="#bdbdbd" fill-opacity=".77" filter="url(#b33)"/><ellipse cx="72.4" cy="60" rx="1.1" ry="2" fill="#bdbdbd" fill-opacity=".42" filter="url(#b33)"/><ellipse cx="72.4" cy="76" rx="1.1" ry="2" fill="#bdbdbd" fill-opacity=".42" filter="url(#b33)"/><ellipse cx="101.6" cy="53" rx="1.1" ry="2" fill="#bdbdbd" fill-opacity=".59" filter="url(#b33)"/><ellipse cx="101.6" cy="76" rx="1.1" ry="2" fill="#bdbdbd" fill-opacity=".68" filter="url(#b33)"/><ellipse cx="128.8" cy="53" rx="1.1" ry="2" fill="#bdbdbd" fill-opacity=".51" filter="url(#b33)"/><ellipse cx="128.8" cy="66" rx="1.1" ry="2" fill="#bdbdbd" fill-opacity=".42" filter="url(#b33)"/><ellipse cx="128.8" cy="76" rx="1.1" ry="2" fill="#bdbdbd" fill-opacity=".59" filter="url(#b33)"/><rect x="46" y="75.4" width="14" height="1" fill="#949494" fill-opacity=".45"/><rect x="103" y="75.4" width="10" height="1" fill="#8f8f8f" fill-opacity=".35"/><rect x="74" y="75.4" width="8" height="1" fill="#8a8a8a" fill-opacity=".25"/></g><rect x=".5" y=".5" width="140" height="99" fill="none" stroke="#222" stroke-width="1"/><path d="M28.5 1v1.6M28.5 99v-1.6M56.5 1v1.6M56.5 99v-1.6M84.5 1v1.6M84.5 99v-1.6M112.5 1v1.6M112.5 99v-1.6M1 76.98h1.6M140 76.98h-1.6M1 54.47h1.6M140 54.47h-1.6M1 31.95h1.6M140 31.95h-1.6M1 9.44h1.6M140 9.44h-1.6" stroke="#222" stroke-width=".9"/><text x="70" y="-7.2" text-anchor="middle">Clock tick</text><text x="70.2" y="118.8" text-anchor="middle">Time/s</text><text transform="translate(-17.5,50) rotate(-90)" text-anchor="middle">Frequency/Hz</text><text x=".4" y="110.1" text-anchor="middle" class="t">0</text><text x="28.25" y="110.1" text-anchor="middle" class="t">1</text><text x="56.1" y="110.1" text-anchor="middle" class="t">2</text><text x="83.95" y="110.1" text-anchor="middle" class="t">3</text><text x="111.8" y="110.1" text-anchor="middle" class="t">4</text><text x="139.65" y="110.1" text-anchor="middle" class="t">5</text><text x="-.8" y="81.08" text-anchor="end" class="t">0.5</text><text x="-.8" y="58.57" text-anchor="end" class="t">1</text><text x="-.8" y="36.05" text-anchor="end" class="t">1.5</text><text x="-.8" y="13.54" text-anchor="end" class="t">2</text><text x=".7" y="-1.8" class="t">x<tspan x="6.8">10</tspan><tspan dy="-4.8" font-size="6.4">4</tspan></text></g>
<g transform="translate(216,166)"><g filter="url(#j4)" shape-rendering="crispEdges"><rect x="0" y="0" width="141" height="100" fill="url(#g34)"/><rect x="68" y="0" width="6" height="26.6" fill="#595959"/><rect x="74" y="0" width="3.5" height="26.6" fill="#404040"/><rect x="77.5" y="0" width="10.5" height="26.6" fill="#5e5e5e"/><rect x="88" y="0" width="42" height="26.6" fill="#747474"/><rect x="130" y="0" width="11" height="26.6" fill="#454545"/><rect x="74" y="26" width="3.5" height="13" fill="#424242"/><rect x="77.5" y="26" width="10.5" height="11" fill="#616161"/><rect x="68" y="26" width="6" height="9" fill="#5e5e5e" fill-opacity=".7"/><rect x="13.5" y="0" width="2" height="26.6" fill="#595959"/><rect x="19.5" y="0" width="1" height="26.6" fill="#4c4c4c"/><rect x="22.5" y="0" width="1" height="26.6" fill="#4c4c4c"/><rect x="26" y="0" width="1" height="26.6" fill="#474747"/><rect x="45.5" y="0" width="1" height="26.6" fill="#545454"/><rect x="47.5" y="0" width="3" height="26.6" fill="#616161"/><rect x="63" y="0" width="1" height="26.6" fill="#525252"/><rect x="65.5" y="0" width="1" height="26.6" fill="#4a4a4a"/><rect x="31" y="0" width="1" height="26.6" fill="#454545"/><rect x="37" y="0" width="1" height="26.6" fill="#454545"/><rect x="56" y="0" width="1" height="26.6" fill="#454545"/><path d="M80.5 0V26.6M105.5 0V26.6M106.5 0V26.6" stroke="#000" stroke-opacity=".1"/><path d="M103.5 0V26.6M104.5 0V26.6M118.5 0V26.6M120.5 0V26.6" stroke="#000" stroke-opacity=".08"/><path d="M78.5 0V26.6M81.5 0V26.6M82.5 0V26.6M119.5 0V26.6" stroke="#000" stroke-opacity=".06"/><path d="M74.5 0V26.6M79.5 0V26.6M83.5 0V26.6M97.5 0V26.6M98.5 0V26.6M117.5 0V26.6" stroke="#000" stroke-opacity=".04"/><path d="M4.5 0V26.6M16.5 0V26.6M24.5 0V26.6M25.5 0V26.6M28.5 0V26.6M29.5 0V26.6M31.5 0V26.6M35.5 0V26.6M37.5 0V26.6M38.5 0V26.6M40.5 0V26.6M41.5 0V26.6M42.5 0V26.6M43.5 0V26.6M44.5 0V26.6M45.5 0V26.6M46.5 0V26.6M50.5 0V26.6M55.5 0V26.6M57.5 0V26.6M61.5 0V26.6M62.5 0V26.6M63.5 0V26.6M67.5 0V26.6M69.5 0V26.6M91.5 0V26.6M137.5 0V26.6M138.5 0V26.6M139.5 0V26.6M140.5 0V26.6" stroke="#000" stroke-opacity=".02"/><path d="M.5 0V26.6M9.5 0V26.6M10.5 0V26.6M14.5 0V26.6M20.5 0V26.6M33.5 0V26.6M51.5 0V26.6M52.5 0V26.6M58.5 0V26.6M60.5 0V26.6M87.5 0V26.6M92.5 0V26.6M93.5 0V26.6M109.5 0V26.6M115.5 0V26.6M122.5 0V26.6M127.5 0V26.6M130.5 0V26.6M131.5 0V26.6M135.5 0V26.6" stroke="#fff" stroke-opacity=".02"/><path d="M70.5 0V26.6M77.5 0V26.6M86.5 0V26.6M102.5 0V26.6M112.5 0V26.6M114.5 0V26.6M116.5 0V26.6M121.5 0V26.6" stroke="#fff" stroke-opacity=".04"/><path d="M71.5 0V26.6M72.5 0V26.6M73.5 0V26.6M84.5 0V26.6M101.5 0V26.6M123.5 0V26.6" stroke="#fff" stroke-opacity=".06"/><path d="M68.5 0V26.6M75.5 0V26.6M90.5 0V26.6M100.5 0V26.6M107.5 0V26.6M111.5 0V26.6M125.5 0V26.6M126.5 0V26.6" stroke="#fff" stroke-opacity=".08"/><path d="M95.5 0V26.6M124.5 0V26.6" stroke="#fff" stroke-opacity=".1"/><path d="M88.5 0V26.6M108.5 0V26.6" stroke="#fff" stroke-opacity=".12"/><path d="M96.5 0V26.6M129.5 0V26.6" stroke="#fff" stroke-opacity=".14"/><rect x="13" y="27" width="32" height="73" fill="url(#g35)" fill-opacity=".9" filter="url(#b28)"/><rect x="14.3" y="37" width="1.8" height="63" fill="url(#g36)" fill-opacity=".8" filter="url(#b37)"/><rect x="19.5" y="37" width="2" height="63" fill="url(#g38)" fill-opacity=".9" filter="url(#b37)"/><rect x="24" y="37" width="1.6" height="63" fill="url(#g39)" fill-opacity=".85" filter="url(#b37)"/><rect x="30.5" y="37" width="1.4" height="63" fill="url(#g40)" fill-opacity=".5" filter="url(#b37)"/><rect x="36" y="37" width="1.2" height="63" fill="url(#g41)" fill-opacity=".35" filter="url(#b37)"/><rect x="40" y="37" width="1.2" height="63" fill="url(#g42)" fill-opacity=".3" filter="url(#b37)"/><ellipse cx="22" cy="72" rx="9" ry="30" fill="#999999" fill-opacity=".4" filter="url(#b43)"/><ellipse cx="20.3" cy="26.5" rx="1.2" ry="2.2" fill="#a3a3a3" fill-opacity=".9" filter="url(#b33)"/><ellipse cx="20.5" cy="45" rx="1.1" ry="3" fill="#bdbdbd" fill-opacity=".6" filter="url(#b37)"/><ellipse cx="20.5" cy="60" rx="1.1" ry="3" fill="#bdbdbd" fill-opacity=".6" filter="url(#b37)"/><ellipse cx="24.7" cy="50" rx="1.1" ry="3" fill="#bdbdbd" fill-opacity=".6" filter="url(#b37)"/><ellipse cx="24.7" cy="66" rx="1.1" ry="3" fill="#bdbdbd" fill-opacity=".6" filter="url(#b37)"/><ellipse cx="15" cy="52" rx="1.1" ry="3" fill="#bdbdbd" fill-opacity=".6" filter="url(#b37)"/><ellipse cx="15" cy="80" rx="1.1" ry="3" fill="#bdbdbd" fill-opacity=".6" filter="url(#b37)"/><rect x="45" y="39" width="6.5" height="61" fill="url(#g44)" fill-opacity="1" filter="url(#b28)"/><ellipse cx="48" cy="65.5" rx="1.4" ry="1.2" fill="#616161" fill-opacity=".8" filter="url(#b45)"/><rect x="51.5" y="27" width="12" height="73" fill="url(#g46)" fill-opacity=".85"/><rect x="63" y="40" width="26" height="60" fill="url(#g47)" fill-opacity="1" filter="url(#b26)"/><ellipse cx="80" cy="68" rx="7" ry="4" fill="#757575" fill-opacity=".6" filter="url(#b48)"/><rect x="88" y="27" width="42" height="7" fill="#828282"/><rect x="88" y="32" width="42" height="33" fill="url(#g49)" fill-opacity="1" filter="url(#b50)"/><ellipse cx="92" cy="37" rx="4" ry="4" fill="#b2b2b2" fill-opacity=".8" filter="url(#b51)"/><ellipse cx="108" cy="40.5" rx="6" ry="3.5" fill="#bdbdbd" fill-opacity=".85" filter="url(#b27)"/><ellipse cx="125" cy="41.5" rx="4.5" ry="4" fill="#adadad" fill-opacity=".7" filter="url(#b52)"/><ellipse cx="100" cy="44" rx="6" ry="3" fill="#adadad" fill-opacity=".6" filter="url(#b52)"/><ellipse cx="117" cy="44" rx="5" ry="3" fill="#a8a8a8" fill-opacity=".6" filter="url(#b52)"/><ellipse cx="110" cy="53" rx="16" ry="3.5" fill="#737373" fill-opacity=".75" filter="url(#b53)"/><ellipse cx="88" cy="54" rx="2.5" ry="7" fill="#b2b2b2" fill-opacity=".7" filter="url(#b54)"/><rect x="89" y="61" width="41" height="38" fill="url(#g55)" fill-opacity="1" filter="url(#b26)"/><ellipse cx="127" cy="67" rx="4" ry="5" fill="#d9d9d9" fill-opacity=".7" filter="url(#b50)"/><ellipse cx="128" cy="90" rx="4" ry="5" fill="#e0e0e0" fill-opacity=".7" filter="url(#b50)"/><ellipse cx="112" cy="84" rx="5" ry="2.5" fill="#e6e6e6" fill-opacity=".6" filter="url(#b54)"/><path d="M89.5 62.8H129M89.5 64.43H129M89.5 66.06H129M89.5 67.69H129M89.5 69.32H129M89.5 70.95H129M89.5 72.58H129M89.5 74.21H129M89.5 75.84H129M89.5 77.47H129M89.5 79.1H129M89.5 80.73H129M89.5 82.36H129M89.5 83.99H129M89.5 85.62H129M89.5 87.25H129M89.5 88.88H129M89.5 90.51H129M89.5 92.14H129M89.5 93.77H129M89.5 95.4H129M89.5 97.03H129" stroke="#ededed" stroke-width=".75" stroke-opacity=".55"/><rect x="131" y="27" width="10" height="73" fill="url(#g56)" fill-opacity=".9"/><path d="M35.15 37.04h1.22M7.96 34.49h.91M20.95 34.11h.99M65.83 38.88h1.73M18.94 29.89h1.79M33.67 38.67h1.14M39.09 32.43h1.02M2.27 31.39h1.05M49.32 36.02h1.57M18.89 31.01h1.38M47.84 33.93h.89M41.43 37.55h.9M30.36 35.14h1.52M12.98 36.74h1.79M1.03 39.32h1.15M32.03 32.16h1.26M32.71 42.68h1.73M63.88 34.01h1.58M58.74 29.43h1.53M38.08 30.78h1.43M61.04 33.3h1.6M10.18 37.44h.86M47.4 35.33h.86M2.57 28.34h1.14M61.29 32.93h1.62M42.53 39.1h1M57.55 34.4h1.73M1.03 29.4h.93M48.01 29.27h1.23M33.89 35.98h1.09M58.2 34.97h.98M36.81 29.36h1.47M11.44 42.19h.88M20.45 31.06h1.37M26.75 34.96h1.25M40.39 31.82h1.12M17.05 29.89h1.42M61.65 42.49h.91M47.29 28.73h1.62M55.71 35.41h1.79M30.59 36.43h1.14M54.03 36.8h1.3M41.74 28.7h1.02M2.19 36.07h1.74M14.06 29.36h1.33M1.38 33.29h1.25M5.12 42.13h1.18M38.75 29.36h1.77M12 35.19h.89M10.37 29.74h1.19M5.8 35.2h1.37M12.59 40.17h.88M37.94 40.87h.8M4.95 28.26h.93M52.04 31.96h1.77M25.26 30.72h.99M7.54 28.84h1.73M47.73 29.9h1.4M30.62 28.69h1.79M15.62 36.96h1.16M32.18 43.85h1.04M46.46 35.16h1.04M36.85 31.36h1.61M19.43 29.13h1.66M11.18 39.19h1.67M24.62 37.98h.92M65.23 38.39h1.38M33.32 30.71h.91M16.79 27.97h1.42M11.92 42.7h.91M21.12 41.68h1.21M48.28 34.11h.96M64.66 41.89h1.08M33.47 28.95h.84M62.44 34.4h1.02M52.06 36.18h1.46M7.14 34.85h1.21M19.42 30.44h1.67M49 36.8h1.07M41.86 34.28h.8M41.09 38.49h1.63M5.2 32.72h.84M4.5 35.17h1.01M4.01 37.85h1.72M54.47 28.38h1.1M2.5 34.44h1.74M12.72 39.56h1.3M7.07 34.27h1.19M19.96 31.69h1.68M27.04 32.6h1.59M55.83 39.07h.92M29.55 40.88h1M49.09 30.99h1.2M38.17 31.72h1.25M17.9 29.77h1.08M36.8 36.14h1.32M22.7 34.69h1.67M31.49 41.63h1.53M5.27 28.37h1.49M37.8 30.32h.8M15.53 37.78h1.16M42.93 30.03h1.45M7.37 42.28h1.06M.3 40.72h1.12M27 29.88h1M26.33 32.31h1.31M17.63 34.71h.83M33.22 37.42h1.7M47.23 28.8h1.16M1.86 35.68h1.25M9.06 31.87h1.15M51.96 31.78h1.61M55.45 31.57h1.65M5.33 33.81h.9M21.33 32.17h1.56M54.93 33.01h1.14M63.67 30.18h1.27M20.93 29.95h1.56M1.25 42.34h.91M14.79 28.01h1.2M5.76 42.09h.9M13.46 31.13h1.69" stroke="#000" stroke-opacity=".13" stroke-width="1"/><path d="M6.21 84.92h1.01M3.53 91.39h1.4M4.95 76.72h1.55M9.26 70.3h1.42M3.08 69.07h1.68M11.89 45.13h1.05M3.4 61.02h1.1M3.66 68.61h1.04M9.49 45.5h1.76M2.45 90.51h1.48M11.49 66.62h1.12M7.94 54.17h1.22M7.04 50.42h1.6M5.96 71.66h1.48M11.68 51.15h.99M1.61 94.07h1.23M9.34 52.65h1.73M1.63 79.12h.83M11.24 64.19h1.43M7.79 54.53h1.25M.03 84.73h1.26M3.61 64.47h1.21M2.07 63.05h1.48M7.27 95.59h1.55M10.77 51.65h1.32M3.18 56.42h1.13M7.4 65.56h1.2M4.75 95.3h1.22M11.94 95.63h1.42M12.7 95.99h1.62M9.29 55.5h.98M.69 55.29h1.33M5.68 83.25h1.1M8.07 62.77h1.02M10.09 59.22h1.32M3.26 77.72h.97M.82 76.6h1.29M8.46 48.06h1.58M.63 93.73h1.74M10.41 60.27h1.45M12.89 81.29h1.46M.39 45.89h1.43M6.05 69.5h.99M3.97 90.27h1.16M12.62 52.67h1.33M8.3 79.68h1.61M9.83 86.53h.86M1.05 50.92h1M9.34 71.97h1.51M7.79 73.1h.99" stroke="#000" stroke-opacity=".08" stroke-width="1"/></g><rect x=".5" y=".5" width="140" height="99" fill="none" stroke="#222" stroke-width="1"/><path d="M28.5 1v1.6M28.5 99v-1.6M56.5 1v1.6M56.5 99v-1.6M84.5 1v1.6M84.5 99v-1.6M112.5 1v1.6M112.5 99v-1.6M1 76.98h1.6M140 76.98h-1.6M1 54.47h1.6M140 54.47h-1.6M1 31.95h1.6M140 31.95h-1.6M1 9.44h1.6M140 9.44h-1.6" stroke="#222" stroke-width=".9"/><text x="70" y="-7.2" text-anchor="middle">Crying baby</text><text x="70.2" y="118.8" text-anchor="middle">Time/s</text><text transform="translate(-17.5,50) rotate(-90)" text-anchor="middle">Frequency/Hz</text><text x=".4" y="110.1" text-anchor="middle" class="t">0</text><text x="28.25" y="110.1" text-anchor="middle" class="t">1</text><text x="56.1" y="110.1" text-anchor="middle" class="t">2</text><text x="83.95" y="110.1" text-anchor="middle" class="t">3</text><text x="111.8" y="110.1" text-anchor="middle" class="t">4</text><text x="139.65" y="110.1" text-anchor="middle" class="t">5</text><text x="-.8" y="81.08" text-anchor="end" class="t">0.5</text><text x="-.8" y="58.57" text-anchor="end" class="t">1</text><text x="-.8" y="36.05" text-anchor="end" class="t">1.5</text><text x="-.8" y="13.54" text-anchor="end" class="t">2</text><text x=".7" y="-1.8" class="t">x<tspan x="6.8">10</tspan><tspan dy="-4.8" font-size="6.4">4</tspan></text></g>
<g transform="translate(402,166)"><g filter="url(#j5)" shape-rendering="crispEdges"><rect x="0" y="0" width="141" height="100" fill="#000000"/><rect x="51.5" y="0" width="7" height="100" fill="url(#g57)"/><rect x="90" y="0" width="1" height="100" fill="#3d3d3d"/><rect x="0" y="0" width="10.5" height="100" fill="url(#g58)"/><rect x="10.5" y="0" width="6" height="100" fill="url(#g59)"/><rect x="16.5" y="0" width="20" height="100" fill="url(#g60)"/><rect x="36.5" y="0" width="9.5" height="100" fill="url(#g61)"/><rect x="16.5" y="37.2" width="20" height="62.8" fill="url(#g62)"/><rect x="16.5" y="37.2" width="20" height="8" fill="url(#g63)"/><ellipse cx="16" cy="84" rx="7" ry="32" fill="#e0e0e0" fill-opacity=".6" filter="url(#b64)"/><path d="M4.5 0V36.5M5.5 0V36.5M36.5 0V36.5" stroke="#000" stroke-opacity=".08"/><path d="M3.5 0V36.5" stroke="#000" stroke-opacity=".06"/><path d="M9.5 0V36.5M19.5 0V36.5" stroke="#000" stroke-opacity=".04"/><path d="M6.5 0V36.5M14.5 0V36.5M31.5 0V36.5M35.5 0V36.5M37.5 0V36.5" stroke="#000" stroke-opacity=".02"/><path d="M.5 0V36.5M1.5 0V36.5M2.5 0V36.5M17.5 0V36.5M25.5 0V36.5M26.5 0V36.5M27.5 0V36.5M30.5 0V36.5M34.5 0V36.5M39.5 0V36.5" stroke="#fff" stroke-opacity=".02"/><path d="M18.5 0V36.5M20.5 0V36.5M28.5 0V36.5M41.5 0V36.5M42.5 0V36.5M43.5 0V36.5" stroke="#fff" stroke-opacity=".04"/><path d="M23.5 0V36.5M29.5 0V36.5" stroke="#fff" stroke-opacity=".06"/><path d="M7.5 0V36.5M32.5 0V36.5" stroke="#fff" stroke-opacity=".1"/><ellipse cx="2.5" cy="62" rx="1.8" ry="2.8" fill="#d6d6d6" fill-opacity=".7" filter="url(#b26)"/><ellipse cx="3" cy="72" rx="1.8" ry="2.8" fill="#d6d6d6" fill-opacity=".7" filter="url(#b26)"/><ellipse cx="2.5" cy="80" rx="1.8" ry="2.8" fill="#d6d6d6" fill-opacity=".7" filter="url(#b26)"/><ellipse cx="4" cy="88" rx="1.8" ry="2.8" fill="#d6d6d6" fill-opacity=".7" filter="url(#b26)"/><ellipse cx="3" cy="95" rx="1.8" ry="2.8" fill="#d6d6d6" fill-opacity=".7" filter="url(#b26)"/><ellipse cx="7" cy="84" rx="1.8" ry="2.8" fill="#d6d6d6" fill-opacity=".7" filter="url(#b26)"/><ellipse cx="6" cy="93" rx="1.8" ry="2.8" fill="#d6d6d6" fill-opacity=".7" filter="url(#b26)"/><path d="M11 39H33.13M11 41.21H30.91M11 43.05H26.06M11 45.19H29.38M11 47.62H29.46M11 50.64H27.44M11 53.56H31.44M11 55.51H34.76M11 58H26.97M11 60.99H28.72M11 63.5H32.79M11 66.29H33.17M11 69.22H33.71M11 71.12H31.57M11 73.51H27.33M11 75.81H33.77M11 78.12H29.92M11 80.48H31.65M11 83.3H34.53M11 85.37H28.64M11 87.47H34.65M11 90.51H29.42M11 93.45H31.44M11 96.58H31.7" stroke="#fff" stroke-opacity=".1" stroke-width=".9"/></g><rect x=".5" y=".5" width="140" height="99" fill="none" stroke="#222" stroke-width="1"/><path d="M28.5 1v1.6M28.5 99v-1.6M56.5 1v1.6M56.5 99v-1.6M84.5 1v1.6M84.5 99v-1.6M112.5 1v1.6M112.5 99v-1.6M1 76.98h1.6M140 76.98h-1.6M1 54.47h1.6M140 54.47h-1.6M1 31.95h1.6M140 31.95h-1.6M1 9.44h1.6M140 9.44h-1.6" stroke="#222" stroke-width=".9"/><text x="70" y="-7.2" text-anchor="middle">Sneezing</text><text x="70.2" y="118.8" text-anchor="middle">Time/s</text><text transform="translate(-17.5,50) rotate(-90)" text-anchor="middle">Frequency/Hz</text><text x=".4" y="110.1" text-anchor="middle" class="t">0</text><text x="28.25" y="110.1" text-anchor="middle" class="t">1</text><text x="56.1" y="110.1" text-anchor="middle" class="t">2</text><text x="83.95" y="110.1" text-anchor="middle" class="t">3</text><text x="111.8" y="110.1" text-anchor="middle" class="t">4</text><text x="139.65" y="110.1" text-anchor="middle" class="t">5</text><text x="-.8" y="81.08" text-anchor="end" class="t">0.5</text><text x="-.8" y="58.57" text-anchor="end" class="t">1</text><text x="-.8" y="36.05" text-anchor="end" class="t">1.5</text><text x="-.8" y="13.54" text-anchor="end" class="t">2</text><text x=".7" y="-1.8" class="t">x<tspan x="6.8">10</tspan><tspan dy="-4.8" font-size="6.4">4</tspan></text></g>
<g transform="translate(32,305)"><g filter="url(#j6)" shape-rendering="crispEdges"><rect x="0" y="0" width="141" height="100" fill="#000000"/><rect x="0" y="0" width="71" height="100" fill="url(#g65)"/><rect x="0" y="0" width="3.4" height="100" fill="url(#g66)"/><rect x="3.4" y="0" width="6.8" height="100" fill="url(#g67)"/><rect x="10.2" y="0" width="2.4" height="100" fill="url(#g68)"/><rect x="12.6" y="0" width="3.4" height="100" fill="url(#g69)"/><rect x="16" y="0" width="1" height="100" fill="url(#g70)"/><rect x="17" y="0" width="5.4" height="100" fill="url(#g71)"/><rect x="22.4" y="0" width="2.9" height="100" fill="url(#g72)"/><rect x="25.3" y="0" width="5.7" height="100" fill="url(#g73)"/><rect x="31" y="0" width="3.6" height="100" fill="url(#g74)"/><rect x="34.6" y="0" width="3.6" height="100" fill="url(#g75)"/><rect x="38.2" y="0" width="3.8" height="100" fill="url(#g76)"/><rect x="42" y="0" width="6" height="100" fill="url(#g77)"/><rect x="48" y="0" width="5" height="100" fill="url(#g78)"/><rect x="53" y="0" width="6" height="100" fill="url(#g79)"/><rect x="59" y="0" width="7" height="100" fill="url(#g80)"/><rect x="66" y="0" width="5" height="100" fill="url(#g81)"/><path d="M41.5 0V100M57.5 0V100" stroke="#000" stroke-opacity=".05"/><path d="M1.5 0V100M8.5 0V100M35.5 0V100M38.5 0V100M42.5 0V100M55.5 0V100" stroke="#000" stroke-opacity=".04"/><path d="M17.5 0V100M22.5 0V100M23.5 0V100M34.5 0V100M39.5 0V100M70.5 0V100" stroke="#000" stroke-opacity=".02"/><path d="M3.5 0V100M12.5 0V100M18.5 0V100M21.5 0V100M24.5 0V100M25.5 0V100M26.5 0V100M29.5 0V100M36.5 0V100M53.5 0V100M58.5 0V100" stroke="#000" stroke-opacity=".01"/><path d="M2.5 0V100M10.5 0V100M20.5 0V100M28.5 0V100M32.5 0V100M44.5 0V100M45.5 0V100M54.5 0V100M65.5 0V100M69.5 0V100" stroke="#fff" stroke-opacity=".01"/><path d="M4.5 0V100M6.5 0V100M15.5 0V100M46.5 0V100M48.5 0V100M52.5 0V100M59.5 0V100M67.5 0V100" stroke="#fff" stroke-opacity=".02"/><path d="M13.5 0V100M27.5 0V100M31.5 0V100M47.5 0V100M51.5 0V100M61.5 0V100M68.5 0V100" stroke="#fff" stroke-opacity=".04"/><path d="M50.5 0V100" stroke="#fff" stroke-opacity=".05"/><rect x="1" y="54.2" width="69" height="1" fill="url(#g82)" fill-opacity=".25"/><rect x="1" y="58.5" width="69" height="1.2" fill="url(#g83)" fill-opacity=".4"/><rect x="1" y="64" width="69" height="1" fill="url(#g84)" fill-opacity=".2"/><rect x="1" y="70.5" width="69" height="1.5" fill="url(#g85)" fill-opacity=".5"/><rect x="1" y="73" width="69" height="1.2" fill="url(#g86)" fill-opacity=".4"/><rect x="1" y="78" width="69" height="1.2" fill="url(#g87)" fill-opacity=".3"/><rect x="1" y="84" width="69" height="1.4" fill="url(#g88)" fill-opacity=".5"/><rect x="1" y="88" width="69" height="1.2" fill="url(#g89)" fill-opacity=".45"/><rect x="1" y="91.3" width="69" height="1.2" fill="url(#g90)" fill-opacity=".5"/><rect x="1" y="94" width="69" height="1" fill="url(#g91)" fill-opacity=".45"/><rect x="1" y="96.3" width="69" height="1.2" fill="url(#g92)" fill-opacity=".45"/><rect x="70.8" y="0" width="1.2" height="100" fill="#787878"/><rect x="72" y="0" width="1" height="100" fill="#383838"/></g><rect x=".5" y=".5" width="140" height="99" fill="none" stroke="#222" stroke-width="1"/><path d="M28.5 1v1.6M28.5 99v-1.6M56.5 1v1.6M56.5 99v-1.6M84.5 1v1.6M84.5 99v-1.6M112.5 1v1.6M112.5 99v-1.6M1 76.98h1.6M140 76.98h-1.6M1 54.47h1.6M140 54.47h-1.6M1 31.95h1.6M140 31.95h-1.6M1 9.44h1.6M140 9.44h-1.6" stroke="#222" stroke-width=".9"/><text x="70" y="-7.2" text-anchor="middle">Rooster</text><text x="70.2" y="118.8" text-anchor="middle">Time/s</text><text transform="translate(-17.5,50) rotate(-90)" text-anchor="middle">Frequency/Hz</text><text x=".4" y="110.1" text-anchor="middle" class="t">0</text><text x="28.25" y="110.1" text-anchor="middle" class="t">1</text><text x="56.1" y="110.1" text-anchor="middle" class="t">2</text><text x="83.95" y="110.1" text-anchor="middle" class="t">3</text><text x="111.8" y="110.1" text-anchor="middle" class="t">4</text><text x="139.65" y="110.1" text-anchor="middle" class="t">5</text><text x="-.8" y="81.08" text-anchor="end" class="t">0.5</text><text x="-.8" y="58.57" text-anchor="end" class="t">1</text><text x="-.8" y="36.05" text-anchor="end" class="t">1.5</text><text x="-.8" y="13.54" text-anchor="end" class="t">2</text><text x=".7" y="-1.8" class="t">x<tspan x="6.8">10</tspan><tspan dy="-4.8" font-size="6.4">4</tspan></text></g>
<g transform="translate(218,305)"><g filter="url(#j7)" shape-rendering="crispEdges"><rect x="0" y="0" width="141" height="100" fill="url(#g93)"/><rect x="0" y="0" width="141" height="26.7" fill="url(#g94)"/><rect x="0" y="27" width="141" height="64" fill="url(#g95)" filter="url(#b96)"/><path d="M6.5 0V26.7M24.5 0V26.7M96.5 0V26.7" stroke="#000" stroke-opacity=".12"/><path d="M43.5 0V26.7M56.5 0V26.7M88.5 0V26.7M100.5 0V26.7M105.5 0V26.7" stroke="#000" stroke-opacity=".1"/><path d="M23.5 0V26.7M25.5 0V26.7M26.5 0V26.7M29.5 0V26.7M39.5 0V26.7M54.5 0V26.7M55.5 0V26.7M69.5 0V26.7M80.5 0V26.7M111.5 0V26.7M130.5 0V26.7" stroke="#000" stroke-opacity=".08"/><path d="M34.5 0V26.7M49.5 0V26.7M53.5 0V26.7M68.5 0V26.7M72.5 0V26.7M91.5 0V26.7M98.5 0V26.7M99.5 0V26.7M115.5 0V26.7M122.5 0V26.7" stroke="#000" stroke-opacity=".05"/><path d="M10.5 0V26.7M21.5 0V26.7M30.5 0V26.7M42.5 0V26.7M74.5 0V26.7M75.5 0V26.7M83.5 0V26.7M84.5 0V26.7M87.5 0V26.7M89.5 0V26.7M97.5 0V26.7M107.5 0V26.7M110.5 0V26.7M125.5 0V26.7M132.5 0V26.7M133.5 0V26.7M134.5 0V26.7" stroke="#000" stroke-opacity=".03"/><path d="M5.5 0V26.7M11.5 0V26.7M17.5 0V26.7M20.5 0V26.7M38.5 0V26.7M40.5 0V26.7M44.5 0V26.7M65.5 0V26.7M71.5 0V26.7M76.5 0V26.7M78.5 0V26.7M81.5 0V26.7M82.5 0V26.7M93.5 0V26.7M101.5 0V26.7M104.5 0V26.7M114.5 0V26.7M117.5 0V26.7M124.5 0V26.7M127.5 0V26.7M136.5 0V26.7" stroke="#fff" stroke-opacity=".03"/><path d="M.5 0V26.7M2.5 0V26.7M9.5 0V26.7M15.5 0V26.7M46.5 0V26.7M60.5 0V26.7M66.5 0V26.7M70.5 0V26.7M79.5 0V26.7M112.5 0V26.7M116.5 0V26.7M118.5 0V26.7M120.5 0V26.7M129.5 0V26.7" stroke="#fff" stroke-opacity=".05"/><path d="M8.5 0V26.7M12.5 0V26.7M37.5 0V26.7M47.5 0V26.7M52.5 0V26.7M58.5 0V26.7M59.5 0V26.7M63.5 0V26.7M64.5 0V26.7M77.5 0V26.7M90.5 0V26.7M94.5 0V26.7M95.5 0V26.7M131.5 0V26.7M137.5 0V26.7M138.5 0V26.7M140.5 0V26.7" stroke="#fff" stroke-opacity=".08"/><path d="M1.5 0V26.7M16.5 0V26.7M51.5 0V26.7M67.5 0V26.7M119.5 0V26.7" stroke="#fff" stroke-opacity=".1"/><path d="M7.5 0V26.7M14.5 0V26.7M31.5 0V26.7M61.5 0V26.7M86.5 0V26.7M121.5 0V26.7" stroke="#fff" stroke-opacity=".12"/><path d="M45.5 0V26.7M62.5 0V26.7M85.5 0V26.7M139.5 0V26.7" stroke="#fff" stroke-opacity=".15"/><ellipse cx="25" cy="62" rx="35" ry="20" fill="#c7c7c7" fill-opacity=".2" filter="url(#b97)"/><path d="M43.5 27V100M76.5 27V100" stroke="#000" stroke-opacity=".05"/><path d="M11.5 27V100M12.5 27V100M39.5 27V100M109.5 27V100M132.5 27V100M139.5 27V100" stroke="#000" stroke-opacity=".04"/><path d="M8.5 27V100M9.5 27V100M13.5 27V100M40.5 27V100M46.5 27V100M63.5 27V100M66.5 27V100M74.5 27V100M86.5 27V100M88.5 27V100M91.5 27V100M101.5 27V100M105.5 27V100M113.5 27V100M140.5 27V100" stroke="#000" stroke-opacity=".02"/><path d="M1.5 27V100M7.5 27V100M16.5 27V100M21.5 27V100M54.5 27V100M58.5 27V100M68.5 27V100M69.5 27V100M81.5 27V100M83.5 27V100M84.5 27V100M90.5 27V100M96.5 27V100M98.5 27V100M102.5 27V100M103.5 27V100M104.5 27V100M114.5 27V100M118.5 27V100M122.5 27V100M126.5 27V100M128.5 27V100M129.5 27V100M137.5 27V100" stroke="#000" stroke-opacity=".01"/><path d="M.5 27V100M3.5 27V100M14.5 27V100M15.5 27V100M18.5 27V100M22.5 27V100M24.5 27V100M25.5 27V100M27.5 27V100M29.5 27V100M35.5 27V100M37.5 27V100M38.5 27V100M45.5 27V100M51.5 27V100M53.5 27V100M55.5 27V100M57.5 27V100M59.5 27V100M61.5 27V100M62.5 27V100M65.5 27V100M71.5 27V100M78.5 27V100M79.5 27V100M85.5 27V100M92.5 27V100M97.5 27V100M110.5 27V100M111.5 27V100M117.5 27V100M123.5 27V100M125.5 27V100M130.5 27V100" stroke="#fff" stroke-opacity=".01"/><path d="M4.5 27V100M6.5 27V100M10.5 27V100M17.5 27V100M19.5 27V100M20.5 27V100M32.5 27V100M33.5 27V100M34.5 27V100M48.5 27V100M49.5 27V100M52.5 27V100M64.5 27V100M70.5 27V100M89.5 27V100M100.5 27V100M119.5 27V100M127.5 27V100" stroke="#fff" stroke-opacity=".02"/><path d="M2.5 27V100M41.5 27V100M77.5 27V100M87.5 27V100M115.5 27V100M116.5 27V100M121.5 27V100M136.5 27V100" stroke="#fff" stroke-opacity=".04"/><path d="M47.5 27V100M72.5 27V100" stroke="#fff" stroke-opacity=".05"/><path d="M12.48 30.34h1.44M107.14 32.52h1.39M107.56 28.32h1.49M109.16 30h1.18M60.13 28.59h1.28M24.56 35h1.05M82.91 32.74h1.46M103.12 29.16h1.1M92.64 33.57h1.16M55.58 32.23h1.45M28.78 28.8h.95M133.46 34.48h1.4M113.08 27.85h1.22M50.76 37.09h1.51M103.69 28.53h.97M125.09 31.66h1.46M29.7 36.15h1.22M120.24 33.17h.81M91.32 33.5h1.08M30.22 30.85h1.4M105.55 38h.84M114.82 33.8h1M46.93 29.14h1.2M24.31 29.05h1.58M8.31 29.2h1.41M124.86 36.89h1.56M134.22 34.64h1.18M132.51 29.22h1.46M106.28 34.42h.81M115 30.36h1.42M2.37 35.63h1.58M120.83 30.61h1.15M85.76 27.95h.94M70.07 32.25h1.16M79.86 31.78h1.49M138.84 40.31h.93M94.12 27.9h1.33M138.19 42.04h1.43M76.6 29.71h.93M79.35 35.8h.83M78.26 29.78h.89M108.87 29.13h.99M80.5 30.72h1.53M135.99 38.43h.89M74.42 30.33h1.02M21.39 35.29h1.27M22.96 28.74h.94M101.58 34.05h1.2M106.5 31.31h.93M85.73 29.07h1.22M95.56 32.8h1.54M21.14 28.13h1.58M52.95 34.65h.92M49.79 32.25h.93M32.62 30.51h1.32M97.5 33.86h1.45M37.28 31.95h.93M60.24 36.27h.83M118.01 34.04h1.26M99.21 33.8h.82M131.27 29.7h1.23M136.78 34.71h.8M41.91 30.61h1.51M86.5 31.28h1.21M99.73 37.31h.84M62.05 30.32h1.08M136.56 32.54h1.6M109.51 36.41h1.51M111.52 29.73h1.04M73.04 38.17h1.16M112.17 30.13h1.3M136.78 28.81h1.1M26.65 31.53h1.51M127.51 30.92h1.05M138.83 38.08h.82M124.57 28.76h1.43M120.55 28.99h1.58M34.18 32.4h1.35M91.09 29.22h1.14M72.37 30.93h1.01M22.88 34.22h1.28M42.08 34.44h1.16M136.24 28.36h1.15M78.59 28.51h1.51M55.21 30.71h1.47M80.04 30.09h1.09M44.15 32.33h.86M89.55 27.56h1.16M7.67 34.76h1.44M122.26 32.03h1.46" stroke="#000" stroke-opacity=".14" stroke-width="1"/></g><rect x=".5" y=".5" width="140" height="99" fill="none" stroke="#222" stroke-width="1"/><path d="M28.5 1v1.6M28.5 99v-1.6M56.5 1v1.6M56.5 99v-1.6M84.5 1v1.6M84.5 99v-1.6M112.5 1v1.6M112.5 99v-1.6M1 76.98h1.6M140 76.98h-1.6M1 54.47h1.6M140 54.47h-1.6M1 31.95h1.6M140 31.95h-1.6M1 9.44h1.6M140 9.44h-1.6" stroke="#222" stroke-width=".9"/><text x="70" y="-7.2" text-anchor="middle">Sea waves</text><text x="70.2" y="118.8" text-anchor="middle">Time/s</text><text transform="translate(-17.5,50) rotate(-90)" text-anchor="middle">Frequency/Hz</text><text x=".4" y="110.1" text-anchor="middle" class="t">0</text><text x="28.25" y="110.1" text-anchor="middle" class="t">1</text><text x="56.1" y="110.1" text-anchor="middle" class="t">2</text><text x="83.95" y="110.1" text-anchor="middle" class="t">3</text><text x="111.8" y="110.1" text-anchor="middle" class="t">4</text><text x="139.65" y="110.1" text-anchor="middle" class="t">5</text><text x="-.8" y="81.08" text-anchor="end" class="t">0.5</text><text x="-.8" y="58.57" text-anchor="end" class="t">1</text><text x="-.8" y="36.05" text-anchor="end" class="t">1.5</text><text x="-.8" y="13.54" text-anchor="end" class="t">2</text><text x=".7" y="-1.8" class="t">x<tspan x="6.8">10</tspan><tspan dy="-4.8" font-size="6.4">4</tspan></text></g>
<g transform="translate(402,305)"><g filter="url(#j8)" shape-rendering="crispEdges"><rect x="0" y="0" width="141" height="100" fill="url(#g98)"/><path d="M81.5 0V26.6" stroke="#000" stroke-opacity=".1"/><path d="M43.5 0V26.6M82.5 0V26.6" stroke="#000" stroke-opacity=".09"/><path d="M3.5 0V26.6M77.5 0V26.6" stroke="#000" stroke-opacity=".07"/><path d="M4.5 0V26.6M44.5 0V26.6M84.5 0V26.6M128.5 0V26.6" stroke="#000" stroke-opacity=".06"/><path d="M22.5 0V26.6M24.5 0V26.6M37.5 0V26.6M38.5 0V26.6M42.5 0V26.6M52.5 0V26.6M56.5 0V26.6M58.5 0V26.6M71.5 0V26.6M78.5 0V26.6M83.5 0V26.6M96.5 0V26.6M104.5 0V26.6M118.5 0V26.6" stroke="#000" stroke-opacity=".04"/><path d="M7.5 0V26.6M21.5 0V26.6M23.5 0V26.6M47.5 0V26.6M49.5 0V26.6M54.5 0V26.6M57.5 0V26.6M59.5 0V26.6M70.5 0V26.6M75.5 0V26.6M89.5 0V26.6M91.5 0V26.6M92.5 0V26.6M94.5 0V26.6M116.5 0V26.6M122.5 0V26.6M125.5 0V26.6M126.5 0V26.6M127.5 0V26.6" stroke="#000" stroke-opacity=".03"/><path d="M1.5 0V26.6M5.5 0V26.6M11.5 0V26.6M12.5 0V26.6M15.5 0V26.6M20.5 0V26.6M30.5 0V26.6M34.5 0V26.6M39.5 0V26.6M51.5 0V26.6M53.5 0V26.6M62.5 0V26.6M64.5 0V26.6M79.5 0V26.6M80.5 0V26.6M97.5 0V26.6M98.5 0V26.6M99.5 0V26.6M112.5 0V26.6M115.5 0V26.6M117.5 0V26.6M120.5 0V26.6M121.5 0V26.6M131.5 0V26.6M136.5 0V26.6" stroke="#000" stroke-opacity=".01"/><path d="M8.5 0V26.6M9.5 0V26.6M27.5 0V26.6M35.5 0V26.6M36.5 0V26.6M40.5 0V26.6M46.5 0V26.6M48.5 0V26.6M60.5 0V26.6M65.5 0V26.6M69.5 0V26.6M85.5 0V26.6M93.5 0V26.6M95.5 0V26.6M102.5 0V26.6M103.5 0V26.6M109.5 0V26.6M119.5 0V26.6M124.5 0V26.6M132.5 0V26.6M134.5 0V26.6M135.5 0V26.6M137.5 0V26.6" stroke="#fff" stroke-opacity=".01"/><path d="M2.5 0V26.6M14.5 0V26.6M17.5 0V26.6M18.5 0V26.6M66.5 0V26.6M74.5 0V26.6M86.5 0V26.6M87.5 0V26.6M105.5 0V26.6M106.5 0V26.6M108.5 0V26.6M110.5 0V26.6M113.5 0V26.6M123.5 0V26.6" stroke="#fff" stroke-opacity=".03"/><path d="M.5 0V26.6M10.5 0V26.6M25.5 0V26.6M26.5 0V26.6M55.5 0V26.6M68.5 0V26.6M73.5 0V26.6M88.5 0V26.6M100.5 0V26.6M101.5 0V26.6M139.5 0V26.6" stroke="#fff" stroke-opacity=".04"/><path d="M41.5 0V26.6" stroke="#fff" stroke-opacity=".06"/><path d="M33.5 0V26.6M138.5 0V26.6" stroke="#fff" stroke-opacity=".07"/><path d="M.5 27V97M59.5 27V97M72.5 27V97M87.5 27V97M115.5 27V97M126.5 27V97" stroke="#000" stroke-opacity=".02"/><path d="M7.5 27V97M9.5 27V97M22.5 27V97M24.5 27V97M25.5 27V97M30.5 27V97M42.5 27V97M61.5 27V97M64.5 27V97M67.5 27V97M69.5 27V97M73.5 27V97M101.5 27V97M103.5 27V97M107.5 27V97M111.5 27V97M117.5 27V97M118.5 27V97M129.5 27V97M138.5 27V97" stroke="#fff" stroke-opacity=".02"/><path d="M19.5 27V97M27.5 27V97M47.5 27V97M48.5 27V97M56.5 27V97M68.5 27V97M77.5 27V97M79.5 27V97M85.5 27V97M96.5 27V97M105.5 27V97M108.5 27V97M114.5 27V97M122.5 27V97M123.5 27V97M140.5 27V97" stroke="#fff" stroke-opacity=".04"/><path d="M3.5 27V97M12.5 27V97M15.5 27V97M28.5 27V97M34.5 27V97M46.5 27V97M57.5 27V97M66.5 27V97M74.5 27V97M75.5 27V97M82.5 27V97M88.5 27V97M94.5 27V97M102.5 27V97M124.5 27V97" stroke="#fff" stroke-opacity=".06"/><path d="M6.5 27V97M8.5 27V97M43.5 27V97M54.5 27V97M62.5 27V97M65.5 27V97M70.5 27V97M116.5 27V97" stroke="#fff" stroke-opacity=".08"/><path d="M1.5 27V97M45.5 27V97M55.5 27V97M63.5 27V97M92.5 27V97M135.5 27V97M137.5 27V97" stroke="#fff" stroke-opacity=".1"/><rect x="56.8" y="0" width="2.8" height="100" fill="url(#g99)" filter="url(#b100)"/><rect x="55.1" y="27" width="7.5" height="73" fill="url(#g101)" filter="url(#b102)"/><ellipse cx="58.9" cy="93" rx="1.8" ry="5" fill="#e6e6e6" fill-opacity=".85" filter="url(#b26)"/><rect x="56.6" y="90" width="5" height="1" fill="#f2f2f2" fill-opacity=".3"/><rect x="56.6" y="93.5" width="5.5" height="1" fill="#f2f2f2" fill-opacity=".3"/><rect x="56.6" y="96.5" width="6" height="1" fill="#f2f2f2" fill-opacity=".3"/><ellipse cx="62.6" cy="95" rx="3" ry="2.5" fill="#bfbfbf" fill-opacity=".5" filter="url(#b50)"/><ellipse cx="58.1" cy="47" rx="1" ry="3" fill="#c7c7c7" fill-opacity=".3" filter="url(#b33)"/><ellipse cx="58.1" cy="64" rx="1" ry="3" fill="#c7c7c7" fill-opacity=".4" filter="url(#b33)"/><ellipse cx="58.1" cy="76" rx="1" ry="3" fill="#c7c7c7" fill-opacity=".45" filter="url(#b33)"/><rect x="70.4" y="0" width="2.8" height="100" fill="url(#g103)" filter="url(#b100)"/><rect x="68.7" y="27" width="7.5" height="73" fill="url(#g104)" filter="url(#b102)"/><ellipse cx="72.5" cy="93" rx="1.8" ry="5" fill="#e6e6e6" fill-opacity=".85" filter="url(#b26)"/><rect x="70.2" y="90" width="5" height="1" fill="#f2f2f2" fill-opacity=".3"/><rect x="70.2" y="93.5" width="5.5" height="1" fill="#f2f2f2" fill-opacity=".3"/><rect x="70.2" y="96.5" width="6" height="1" fill="#f2f2f2" fill-opacity=".3"/><ellipse cx="76.2" cy="95" rx="3" ry="2.5" fill="#bfbfbf" fill-opacity=".5" filter="url(#b50)"/><ellipse cx="71.7" cy="47" rx="1" ry="3" fill="#c7c7c7" fill-opacity=".3" filter="url(#b33)"/><ellipse cx="71.7" cy="64" rx="1" ry="3" fill="#c7c7c7" fill-opacity=".4" filter="url(#b33)"/><ellipse cx="71.7" cy="76" rx="1" ry="3" fill="#c7c7c7" fill-opacity=".45" filter="url(#b33)"/><rect x="83.9" y="0" width="2.8" height="100" fill="url(#g105)" filter="url(#b100)"/><rect x="82.2" y="27" width="7.5" height="73" fill="url(#g106)" filter="url(#b102)"/><ellipse cx="86" cy="93" rx="1.8" ry="5" fill="#e6e6e6" fill-opacity=".85" filter="url(#b26)"/><rect x="83.7" y="90" width="5" height="1" fill="#f2f2f2" fill-opacity=".3"/><rect x="83.7" y="93.5" width="5.5" height="1" fill="#f2f2f2" fill-opacity=".3"/><rect x="83.7" y="96.5" width="6" height="1" fill="#f2f2f2" fill-opacity=".3"/><ellipse cx="89.7" cy="95" rx="3" ry="2.5" fill="#bfbfbf" fill-opacity=".5" filter="url(#b50)"/><ellipse cx="85.2" cy="47" rx="1" ry="3" fill="#c7c7c7" fill-opacity=".3" filter="url(#b33)"/><ellipse cx="85.2" cy="64" rx="1" ry="3" fill="#c7c7c7" fill-opacity=".4" filter="url(#b33)"/><ellipse cx="85.2" cy="76" rx="1" ry="3" fill="#c7c7c7" fill-opacity=".45" filter="url(#b33)"/><rect x="98.9" y="0" width="2.8" height="100" fill="url(#g107)" filter="url(#b100)"/><rect x="97.2" y="27" width="7.5" height="73" fill="url(#g108)" filter="url(#b102)"/><ellipse cx="101" cy="93" rx="1.8" ry="5" fill="#e6e6e6" fill-opacity=".85" filter="url(#b26)"/><rect x="98.7" y="90" width="5" height="1" fill="#f2f2f2" fill-opacity=".3"/><rect x="98.7" y="93.5" width="5.5" height="1" fill="#f2f2f2" fill-opacity=".3"/><rect x="98.7" y="96.5" width="6" height="1" fill="#f2f2f2" fill-opacity=".3"/><ellipse cx="104.7" cy="95" rx="3" ry="2.5" fill="#bfbfbf" fill-opacity=".5" filter="url(#b50)"/><ellipse cx="100.2" cy="47" rx="1" ry="3" fill="#c7c7c7" fill-opacity=".3" filter="url(#b33)"/><ellipse cx="100.2" cy="64" rx="1" ry="3" fill="#c7c7c7" fill-opacity=".4" filter="url(#b33)"/><ellipse cx="100.2" cy="76" rx="1" ry="3" fill="#c7c7c7" fill-opacity=".45" filter="url(#b33)"/><rect x="111.1" y="0" width="2.8" height="100" fill="url(#g109)" filter="url(#b100)"/><rect x="109.4" y="27" width="7.5" height="73" fill="url(#g110)" filter="url(#b102)"/><ellipse cx="113.2" cy="93" rx="1.8" ry="5" fill="#e6e6e6" fill-opacity=".85" filter="url(#b26)"/><rect x="110.9" y="90" width="5" height="1" fill="#f2f2f2" fill-opacity=".3"/><rect x="110.9" y="93.5" width="5.5" height="1" fill="#f2f2f2" fill-opacity=".3"/><rect x="110.9" y="96.5" width="6" height="1" fill="#f2f2f2" fill-opacity=".3"/><ellipse cx="116.9" cy="95" rx="3" ry="2.5" fill="#bfbfbf" fill-opacity=".5" filter="url(#b50)"/><ellipse cx="112.4" cy="47" rx="1" ry="3" fill="#c7c7c7" fill-opacity=".3" filter="url(#b33)"/><ellipse cx="112.4" cy="64" rx="1" ry="3" fill="#c7c7c7" fill-opacity=".4" filter="url(#b33)"/><ellipse cx="112.4" cy="76" rx="1" ry="3" fill="#c7c7c7" fill-opacity=".45" filter="url(#b33)"/><rect x="0" y="94" width="70" height="6" fill="url(#g111)" filter="url(#b112)"/></g><rect x=".5" y=".5" width="140" height="99" fill="none" stroke="#222" stroke-width="1"/><path d="M28.5 1v1.6M28.5 99v-1.6M56.5 1v1.6M56.5 99v-1.6M84.5 1v1.6M84.5 99v-1.6M112.5 1v1.6M112.5 99v-1.6M1 76.98h1.6M140 76.98h-1.6M1 54.47h1.6M140 54.47h-1.6M1 31.95h1.6M140 31.95h-1.6M1 9.44h1.6M140 9.44h-1.6" stroke="#222" stroke-width=".9"/><text x="70" y="-7.2" text-anchor="middle">Dog</text><text x="70.2" y="118.8" text-anchor="middle">Time/s</text><text transform="translate(-17.5,50) rotate(-90)" text-anchor="middle">Frequency/Hz</text><text x=".4" y="110.1" text-anchor="middle" class="t">0</text><text x="28.25" y="110.1" text-anchor="middle" class="t">1</text><text x="56.1" y="110.1" text-anchor="middle" class="t">2</text><text x="83.95" y="110.1" text-anchor="middle" class="t">3</text><text x="111.8" y="110.1" text-anchor="middle" class="t">4</text><text x="139.65" y="110.1" text-anchor="middle" class="t">5</text><text x="-.8" y="81.08" text-anchor="end" class="t">0.5</text><text x="-.8" y="58.57" text-anchor="end" class="t">1</text><text x="-.8" y="36.05" text-anchor="end" class="t">1.5</text><text x="-.8" y="13.54" text-anchor="end" class="t">2</text><text x=".7" y="-1.8" class="t">x<tspan x="6.8">10</tspan><tspan dy="-4.8" font-size="6.4">4</tspan></text></g>

</svg>
</body></html>
